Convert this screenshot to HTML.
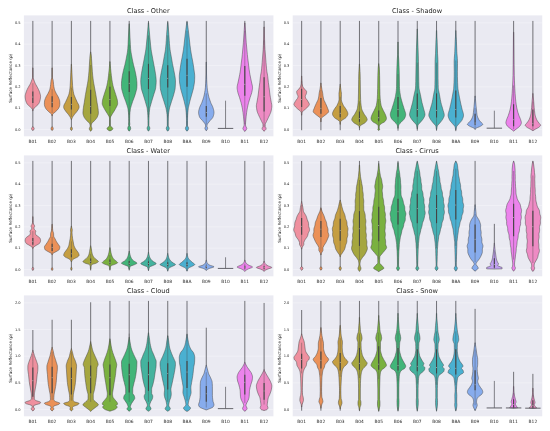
<!DOCTYPE html>
<html><head><meta charset="utf-8"><title>Surface Reflectance violin plots</title>
<style>html,body{margin:0;padding:0;background:#fff}svg{display:block}</style></head>
<body>
<svg width="550" height="431" viewBox="0 0 550 431" font-family="DejaVu Sans, Liberation Sans, sans-serif" fill="#262626">
<rect width="550" height="431" fill="#fff"/>
<g>
<rect x="23.90" y="15.40" width="249.55" height="120.90" fill="#eaeaf2"/>
<line x1="23.90" x2="273.45" y1="129.55" y2="129.55" stroke="#fff" stroke-width="0.32"/>
<text x="20.60" y="130.70" font-size="3.6" text-anchor="end">0.0</text>
<line x1="23.90" x2="273.45" y1="108.20" y2="108.20" stroke="#fff" stroke-width="0.32"/>
<text x="20.60" y="109.35" font-size="3.6" text-anchor="end">0.1</text>
<line x1="23.90" x2="273.45" y1="86.85" y2="86.85" stroke="#fff" stroke-width="0.32"/>
<text x="20.60" y="88.00" font-size="3.6" text-anchor="end">0.2</text>
<line x1="23.90" x2="273.45" y1="65.50" y2="65.50" stroke="#fff" stroke-width="0.32"/>
<text x="20.60" y="66.65" font-size="3.6" text-anchor="end">0.3</text>
<line x1="23.90" x2="273.45" y1="44.15" y2="44.15" stroke="#fff" stroke-width="0.32"/>
<text x="20.60" y="45.30" font-size="3.6" text-anchor="end">0.4</text>
<line x1="23.90" x2="273.45" y1="22.80" y2="22.80" stroke="#fff" stroke-width="0.32"/>
<text x="20.60" y="23.95" font-size="3.6" text-anchor="end">0.5</text>
<text x="148.28" y="13.00" font-size="6.6" text-anchor="middle">Class - Other</text>
<text transform="translate(11.70,78.30) rotate(-90)" font-size="4.2" text-anchor="middle">Surface Reflectance (ρ)</text>
<text x="32.85" y="143.20" font-size="4.4" text-anchor="middle">B01</text>
<line x1="32.85" x2="32.85" y1="20.91" y2="130.45" stroke="#636369" stroke-width="0.9"/>
<path d="M32.85,67.73 32.99,67.84 33.08,77.27 33.12,77.73 33.22,78.18 34.56,81.82 35.17,83.30 35.76,84.43 37.39,87.27 38.58,89.66 39.19,91.02 39.52,91.93 40.29,94.43 40.51,95.45 40.58,96.36 40.55,97.16 40.45,98.07 40.27,99.20 40.03,100.45 39.84,101.14 39.56,101.93 39.27,102.61 38.88,103.41 38.54,103.98 37.96,104.66 37.36,105.23 35.57,106.82 33.95,108.41 33.54,108.86 33.32,109.20 33.22,109.43 33.09,110.11 32.99,110.91 32.85,111.02 32.71,110.91 32.61,110.11 32.48,109.43 32.38,109.20 32.16,108.86 31.75,108.41 30.13,106.82 28.34,105.23 27.74,104.66 27.16,103.98 26.82,103.41 26.43,102.61 26.14,101.93 25.86,101.14 25.67,100.45 25.43,99.20 25.25,98.07 25.15,97.16 25.12,96.36 25.19,95.45 25.41,94.43 26.18,91.93 26.51,91.02 27.12,89.66 28.31,87.27 29.94,84.43 30.53,83.30 31.14,81.82 32.48,78.18 32.58,77.73 32.62,77.27 32.71,67.84ZM32.85,126.59 32.99,126.70 33.18,126.93 33.57,127.27 33.76,127.50 34.11,128.30 34.20,128.64 34.21,128.86 34.13,129.20 33.76,129.77 33.39,130.11 32.85,130.45 32.31,130.11 31.94,129.77 31.57,129.20 31.49,128.86 31.50,128.64 31.59,128.30 31.94,127.50 32.13,127.27 32.52,126.93 32.71,126.70Z" fill="#ef909f" stroke="#484848" stroke-width="0.5" stroke-linejoin="round"/>
<line x1="32.85" x2="32.85" y1="83.18" y2="109.32" stroke="#4a4a4a" stroke-width="0.4"/>
<line x1="32.85" x2="32.85" y1="91.59" y2="102.95" stroke="#444" stroke-width="1.1"/>
<circle cx="32.85" cy="97.05" r="0.45" fill="#fff" fill-opacity="0.85"/>
<text x="52.12" y="143.20" font-size="4.4" text-anchor="middle">B02</text>
<line x1="52.12" x2="52.12" y1="20.91" y2="130.45" stroke="#636369" stroke-width="0.9"/>
<path d="M52.12,67.73 52.26,67.84 52.36,77.50 52.50,78.18 52.97,79.55 53.14,80.23 53.29,81.36 53.60,84.55 53.89,86.59 54.18,88.18 54.55,89.66 54.84,90.45 55.17,91.25 56.38,93.75 57.67,95.91 58.04,96.59 58.96,98.64 59.36,99.66 59.59,100.45 59.71,101.14 59.81,102.84 59.85,104.32 59.82,104.77 59.76,105.23 59.53,106.14 59.25,106.93 58.87,107.84 58.51,108.52 58.18,108.98 57.69,109.55 55.53,111.70 55.02,112.16 53.59,113.30 53.00,113.86 52.73,114.20 52.62,114.43 52.39,115.23 52.26,115.91 52.12,116.02 51.98,115.91 51.85,115.23 51.62,114.43 51.51,114.20 51.24,113.86 50.65,113.30 49.22,112.16 48.71,111.70 46.55,109.55 46.06,108.98 45.73,108.52 45.37,107.84 44.99,106.93 44.71,106.14 44.48,105.23 44.42,104.77 44.39,104.32 44.43,102.84 44.53,101.14 44.65,100.45 44.88,99.66 45.28,98.64 46.20,96.59 46.57,95.91 47.86,93.75 49.07,91.25 49.40,90.45 49.69,89.66 50.06,88.18 50.35,86.59 50.64,84.55 50.95,81.36 51.10,80.23 51.27,79.55 51.74,78.18 51.88,77.50 51.98,67.84ZM52.12,126.59 52.26,126.70 52.42,126.93 52.76,127.27 52.92,127.50 53.18,128.30 53.26,128.86 53.23,129.09 53.15,129.32 52.83,129.89 52.60,130.11 52.12,130.45 51.64,130.11 51.41,129.89 51.09,129.32 51.01,129.09 50.98,128.86 51.06,128.30 51.32,127.50 51.48,127.27 51.82,126.93 51.98,126.70Z" fill="#eb9158" stroke="#484848" stroke-width="0.5" stroke-linejoin="round"/>
<line x1="52.12" x2="52.12" y1="88.86" y2="113.18" stroke="#4a4a4a" stroke-width="0.4"/>
<line x1="52.12" x2="52.12" y1="96.36" y2="107.27" stroke="#444" stroke-width="1.1"/>
<circle cx="52.12" cy="102.27" r="0.45" fill="#fff" fill-opacity="0.85"/>
<text x="71.39" y="143.20" font-size="4.4" text-anchor="middle">B03</text>
<line x1="71.39" x2="71.39" y1="20.91" y2="130.45" stroke="#636369" stroke-width="0.9"/>
<path d="M71.39,64.09 71.53,64.20 71.62,66.70 71.93,72.27 72.24,79.09 72.60,85.57 72.88,88.75 73.08,90.23 73.30,91.59 73.78,93.86 74.06,94.77 74.45,95.80 75.73,98.86 77.30,102.27 77.59,102.84 78.43,104.32 78.79,105.11 78.99,105.80 79.08,106.59 79.12,107.27 79.07,107.73 78.94,108.18 78.74,108.64 78.42,109.20 76.91,111.48 76.36,112.16 74.69,114.09 73.15,116.25 72.71,116.93 72.33,117.61 71.74,118.98 71.54,119.66 71.39,119.77 71.24,119.66 71.04,118.98 70.45,117.61 70.07,116.93 69.63,116.25 68.09,114.09 66.42,112.16 65.87,111.48 64.36,109.20 64.04,108.64 63.84,108.18 63.71,107.73 63.66,107.27 63.70,106.59 63.79,105.80 63.99,105.11 64.35,104.32 65.19,102.84 65.48,102.27 67.05,98.86 68.33,95.80 68.72,94.77 69.00,93.86 69.48,91.59 69.70,90.23 69.90,88.75 70.18,85.57 70.54,79.09 70.85,72.27 71.16,66.70 71.25,64.20ZM71.39,126.82 71.53,126.93 71.69,127.16 72.04,127.50 72.19,127.73 72.37,128.41 72.41,128.86 72.35,129.20 72.07,129.77 71.79,130.11 71.39,130.45 70.99,130.11 70.71,129.77 70.43,129.20 70.37,128.86 70.41,128.41 70.59,127.73 70.74,127.50 71.09,127.16 71.25,126.93Z" fill="#c59e42" stroke="#484848" stroke-width="0.5" stroke-linejoin="round"/>
<line x1="71.39" x2="71.39" y1="87.73" y2="116.82" stroke="#4a4a4a" stroke-width="0.4"/>
<line x1="71.39" x2="71.39" y1="97.05" y2="109.55" stroke="#444" stroke-width="1.1"/>
<circle cx="71.39" cy="104.32" r="0.45" fill="#fff" fill-opacity="0.85"/>
<text x="90.66" y="143.20" font-size="4.4" text-anchor="middle">B04</text>
<line x1="90.66" x2="90.66" y1="20.91" y2="131.14" stroke="#636369" stroke-width="0.9"/>
<path d="M90.66,51.82 90.80,51.93 90.89,52.84 91.23,55.00 91.34,55.91 91.52,58.30 92.39,71.82 92.70,75.34 93.11,78.98 93.40,81.14 93.76,83.30 95.87,94.66 97.08,102.61 97.88,107.27 98.09,108.86 98.25,110.57 98.36,112.05 98.39,113.18 98.36,113.64 98.30,114.09 98.02,115.11 97.32,116.93 97.09,117.39 96.82,117.84 96.08,118.86 94.65,120.57 94.06,121.14 92.48,122.50 92.07,122.95 91.80,123.41 91.52,124.09 91.34,124.66 91.24,125.23 91.23,125.68 91.28,126.36 91.37,126.93 91.47,127.16 91.83,127.73 91.91,127.95 92.01,128.64 92.01,129.09 91.84,129.66 91.50,130.34 91.20,130.68 90.66,131.14 90.12,130.68 89.82,130.34 89.48,129.66 89.31,129.09 89.31,128.64 89.41,127.95 89.49,127.73 89.85,127.16 89.95,126.93 90.04,126.36 90.09,125.68 90.08,125.23 89.98,124.66 89.80,124.09 89.52,123.41 89.25,122.95 88.84,122.50 87.26,121.14 86.67,120.57 85.24,118.86 84.50,117.84 84.23,117.39 84.00,116.93 83.30,115.11 83.02,114.09 82.96,113.64 82.93,113.18 82.96,112.05 83.07,110.57 83.23,108.86 83.44,107.27 84.24,102.61 85.45,94.66 87.56,83.30 87.92,81.14 88.21,78.98 88.62,75.34 88.93,71.82 89.80,58.30 89.98,55.91 90.09,55.00 90.43,52.84 90.52,51.93Z" fill="#a5a63f" stroke="#484848" stroke-width="0.5" stroke-linejoin="round"/>
<line x1="90.66" x2="90.66" y1="65.00" y2="124.55" stroke="#4a4a4a" stroke-width="0.4"/>
<line x1="90.66" x2="90.66" y1="89.77" y2="113.86" stroke="#444" stroke-width="1.1"/>
<circle cx="90.66" cy="106.59" r="0.45" fill="#fff" fill-opacity="0.85"/>
<text x="109.93" y="143.20" font-size="4.4" text-anchor="middle">B05</text>
<line x1="109.93" x2="109.93" y1="20.91" y2="130.91" stroke="#636369" stroke-width="0.9"/>
<path d="M109.93,61.48 110.07,61.59 110.20,63.75 110.61,68.52 111.35,75.45 111.84,79.32 112.36,82.50 112.96,85.45 113.61,88.07 115.78,94.66 116.92,98.41 117.17,99.32 117.37,100.23 117.48,101.14 117.61,102.50 117.66,103.64 117.58,104.32 117.33,105.11 117.02,105.80 115.90,108.07 115.34,109.09 114.11,111.14 112.44,113.75 111.16,115.91 110.80,116.59 110.58,117.16 110.50,117.50 110.35,118.41 110.27,119.43 110.30,122.95 110.38,125.91 110.41,126.02 110.59,126.25 110.87,126.48 111.73,127.05 111.98,127.27 112.66,128.07 112.84,128.41 112.88,128.64 112.81,128.98 112.61,129.32 112.21,129.77 111.83,130.11 111.16,130.45 109.93,130.91 108.70,130.45 108.03,130.11 107.65,129.77 107.25,129.32 107.05,128.98 106.98,128.64 107.02,128.41 107.20,128.07 107.88,127.27 108.13,127.05 108.99,126.48 109.27,126.25 109.45,126.02 109.48,125.91 109.56,122.95 109.59,119.43 109.51,118.41 109.36,117.50 109.28,117.16 109.06,116.59 108.70,115.91 107.42,113.75 105.75,111.14 104.52,109.09 103.96,108.07 102.84,105.80 102.53,105.11 102.28,104.32 102.20,103.64 102.25,102.50 102.38,101.14 102.49,100.23 102.69,99.32 102.94,98.41 104.08,94.66 106.25,88.07 106.90,85.45 107.50,82.50 108.02,79.32 108.51,75.45 109.25,68.52 109.66,63.75 109.79,61.59Z" fill="#7ab140" stroke="#484848" stroke-width="0.5" stroke-linejoin="round"/>
<line x1="109.93" x2="109.93" y1="74.09" y2="117.27" stroke="#4a4a4a" stroke-width="0.4"/>
<line x1="109.93" x2="109.93" y1="86.82" y2="105.91" stroke="#444" stroke-width="1.1"/>
<circle cx="109.93" cy="99.55" r="0.45" fill="#fff" fill-opacity="0.85"/>
<text x="129.20" y="143.20" font-size="4.4" text-anchor="middle">B06</text>
<line x1="129.20" x2="129.20" y1="20.91" y2="131.14" stroke="#636369" stroke-width="0.9"/>
<path d="M129.20,23.64 129.34,23.75 130.36,44.66 130.62,48.64 130.85,50.91 131.07,52.39 131.38,54.20 132.11,58.18 132.70,61.14 133.50,64.77 134.96,70.45 135.98,75.34 136.35,77.50 136.73,80.45 136.88,81.93 136.93,83.18 136.93,86.70 136.90,87.39 136.73,88.75 136.39,90.34 135.98,91.82 134.76,95.91 134.27,97.27 132.73,101.25 131.38,105.34 130.75,107.50 130.54,108.41 130.37,109.32 129.97,112.39 129.79,114.77 129.69,118.52 129.65,121.82 129.68,122.27 129.85,123.52 129.88,124.09 129.85,124.43 129.68,125.34 129.65,125.68 129.67,125.80 129.78,126.02 130.22,126.59 130.34,126.82 130.62,127.84 130.67,128.18 130.67,128.52 130.63,128.86 130.54,129.20 130.16,130.11 129.92,130.45 129.58,130.80 129.46,130.91 129.20,131.02 128.94,130.91 128.82,130.80 128.48,130.45 128.24,130.11 127.86,129.20 127.77,128.86 127.73,128.52 127.73,128.18 127.78,127.84 128.06,126.82 128.18,126.59 128.62,126.02 128.73,125.80 128.75,125.68 128.72,125.34 128.55,124.43 128.52,124.09 128.55,123.52 128.72,122.27 128.75,121.82 128.71,118.52 128.61,114.77 128.43,112.39 128.03,109.32 127.86,108.41 127.65,107.50 127.02,105.34 125.67,101.25 124.13,97.27 123.64,95.91 122.42,91.82 122.01,90.34 121.67,88.75 121.50,87.39 121.47,86.70 121.47,83.18 121.52,81.93 121.67,80.45 122.05,77.50 122.42,75.34 123.44,70.45 124.90,64.77 125.70,61.14 126.29,58.18 127.02,54.20 127.33,52.39 127.55,50.91 127.78,48.64 128.04,44.66 129.06,23.75Z" fill="#42b579" stroke="#484848" stroke-width="0.5" stroke-linejoin="round"/>
<line x1="129.20" x2="129.20" y1="44.55" y2="115.00" stroke="#4a4a4a" stroke-width="0.4"/>
<line x1="129.20" x2="129.20" y1="71.14" y2="92.05" stroke="#444" stroke-width="1.1"/>
<circle cx="129.20" cy="83.18" r="0.45" fill="#fff" fill-opacity="0.85"/>
<text x="148.47" y="143.20" font-size="4.4" text-anchor="middle">B07</text>
<line x1="148.47" x2="148.47" y1="20.91" y2="131.14" stroke="#636369" stroke-width="0.9"/>
<path d="M148.47,22.61 148.61,22.73 149.22,30.11 149.92,37.95 150.69,45.91 151.10,49.43 151.35,51.14 151.69,53.07 152.86,59.43 154.70,69.09 155.40,73.18 155.71,75.23 155.92,76.93 156.14,79.43 156.20,80.91 156.15,82.84 155.98,85.11 155.72,87.73 155.46,89.09 155.03,90.68 153.87,94.20 151.71,101.25 150.22,106.48 149.89,107.84 149.68,108.98 149.30,112.39 149.08,115.57 148.97,120.57 148.92,125.91 148.94,126.02 149.05,126.25 149.50,126.82 149.61,127.05 149.78,127.84 149.83,128.52 149.78,128.86 149.69,129.20 149.32,130.11 149.10,130.45 148.80,130.80 148.70,130.91 148.47,131.02 148.24,130.91 148.14,130.80 147.84,130.45 147.62,130.11 147.25,129.20 147.16,128.86 147.11,128.52 147.16,127.84 147.33,127.05 147.44,126.82 147.89,126.25 148.00,126.02 148.02,125.91 147.97,120.57 147.86,115.57 147.64,112.39 147.26,108.98 147.05,107.84 146.72,106.48 145.23,101.25 143.07,94.20 141.91,90.68 141.48,89.09 141.22,87.73 140.96,85.11 140.79,82.84 140.74,80.91 140.80,79.43 141.02,76.93 141.23,75.23 141.54,73.18 142.24,69.09 144.08,59.43 145.25,53.07 145.59,51.14 145.84,49.43 146.25,45.91 147.02,37.95 147.72,30.11 148.33,22.73Z" fill="#44b39e" stroke="#484848" stroke-width="0.5" stroke-linejoin="round"/>
<line x1="148.47" x2="148.47" y1="35.45" y2="117.27" stroke="#4a4a4a" stroke-width="0.4"/>
<line x1="148.47" x2="148.47" y1="63.86" y2="89.09" stroke="#444" stroke-width="1.1"/>
<circle cx="148.47" cy="78.64" r="0.45" fill="#fff" fill-opacity="0.85"/>
<text x="167.74" y="143.20" font-size="4.4" text-anchor="middle">B08</text>
<line x1="167.74" x2="167.74" y1="20.91" y2="131.14" stroke="#636369" stroke-width="0.9"/>
<path d="M167.74,22.27 167.88,22.39 168.29,26.93 168.87,34.43 169.24,40.57 169.45,43.41 169.76,46.93 170.07,49.77 170.39,51.82 171.20,56.25 172.47,63.64 173.84,70.34 174.82,75.45 175.05,76.93 175.35,79.20 175.44,80.11 175.47,80.91 175.41,83.98 175.23,87.61 175.11,88.75 174.86,90.11 174.45,91.82 173.30,96.02 171.51,101.48 170.20,105.68 169.76,107.16 169.30,109.09 168.76,112.27 168.47,114.43 168.32,116.36 168.23,121.14 168.19,125.91 168.21,126.02 168.32,126.25 168.75,126.82 168.88,127.05 169.16,127.95 169.21,128.52 169.17,128.86 169.08,129.20 168.70,130.11 168.46,130.45 168.12,130.80 168.00,130.91 167.74,131.02 167.48,130.91 167.36,130.80 167.02,130.45 166.78,130.11 166.40,129.20 166.31,128.86 166.27,128.52 166.32,127.95 166.60,127.05 166.73,126.82 167.16,126.25 167.27,126.02 167.29,125.91 167.25,121.14 167.16,116.36 167.01,114.43 166.72,112.27 166.18,109.09 165.72,107.16 165.28,105.68 163.97,101.48 162.18,96.02 161.03,91.82 160.62,90.11 160.37,88.75 160.25,87.61 160.07,83.98 160.01,80.91 160.04,80.11 160.13,79.20 160.43,76.93 160.66,75.45 161.64,70.34 163.01,63.64 164.28,56.25 165.09,51.82 165.41,49.77 165.72,46.93 166.03,43.41 166.24,40.57 166.61,34.43 167.19,26.93 167.60,22.39Z" fill="#46b1b5" stroke="#484848" stroke-width="0.5" stroke-linejoin="round"/>
<line x1="167.74" x2="167.74" y1="35.45" y2="117.27" stroke="#4a4a4a" stroke-width="0.4"/>
<line x1="167.74" x2="167.74" y1="65.23" y2="87.50" stroke="#444" stroke-width="1.1"/>
<circle cx="167.74" cy="78.18" r="0.45" fill="#fff" fill-opacity="0.85"/>
<text x="187.01" y="143.20" font-size="4.4" text-anchor="middle">B8A</text>
<line x1="187.01" x2="187.01" y1="20.91" y2="131.14" stroke="#636369" stroke-width="0.9"/>
<path d="M187.01,21.70 187.15,21.82 187.72,25.80 188.25,29.77 188.88,35.00 190.03,45.34 190.52,49.20 191.14,53.07 191.93,57.39 192.85,62.16 193.29,64.77 193.76,67.95 194.58,74.09 194.70,75.34 194.74,76.36 194.65,79.66 194.59,80.80 194.49,81.93 194.17,84.32 193.54,87.84 193.29,88.98 192.93,90.34 190.48,98.98 189.87,101.25 188.73,106.14 188.43,107.61 188.23,108.86 187.83,112.61 187.62,115.68 187.51,120.68 187.46,125.91 187.48,126.02 187.61,126.25 188.12,126.82 188.26,127.05 188.55,127.95 188.60,128.52 188.55,128.86 188.46,129.20 188.09,130.11 187.70,130.57 187.01,131.14 186.32,130.57 185.93,130.11 185.56,129.20 185.47,128.86 185.42,128.52 185.47,127.95 185.76,127.05 185.90,126.82 186.41,126.25 186.54,126.02 186.56,125.91 186.51,120.68 186.40,115.68 186.19,112.61 185.79,108.86 185.59,107.61 185.29,106.14 184.15,101.25 183.54,98.98 181.09,90.34 180.73,88.98 180.48,87.84 179.85,84.32 179.53,81.93 179.43,80.80 179.37,79.66 179.28,76.36 179.32,75.34 179.44,74.09 180.26,67.95 180.73,64.77 181.17,62.16 182.09,57.39 182.88,53.07 183.50,49.20 183.99,45.34 185.14,35.00 185.77,29.77 186.30,25.80 186.87,21.82Z" fill="#4ab0d1" stroke="#484848" stroke-width="0.5" stroke-linejoin="round"/>
<line x1="187.01" x2="187.01" y1="30.91" y2="117.27" stroke="#4a4a4a" stroke-width="0.4"/>
<line x1="187.01" x2="187.01" y1="58.64" y2="86.82" stroke="#444" stroke-width="1.1"/>
<circle cx="187.01" cy="75.23" r="0.45" fill="#fff" fill-opacity="0.85"/>
<text x="206.28" y="143.20" font-size="4.4" text-anchor="middle">B09</text>
<line x1="206.28" x2="206.28" y1="20.91" y2="130.68" stroke="#636369" stroke-width="0.9"/>
<path d="M206.28,61.93 206.42,62.05 206.52,73.98 206.68,79.32 206.90,83.30 207.19,87.50 207.33,88.98 207.55,90.57 207.90,92.61 208.37,95.00 208.70,96.36 209.07,97.73 209.80,100.00 210.73,102.61 211.18,103.64 212.46,106.25 212.96,107.50 213.51,109.43 213.78,110.57 213.95,111.59 214.01,112.50 213.94,113.52 213.71,114.77 213.46,115.68 213.14,116.70 213.01,117.05 212.84,117.39 212.55,117.84 212.11,118.41 210.14,120.57 208.20,122.95 207.71,123.64 207.34,124.32 207.22,124.66 207.07,125.34 206.99,125.91 206.96,126.36 207.02,126.59 207.37,127.16 207.45,127.39 207.62,128.07 207.64,128.41 207.62,128.64 207.46,129.09 207.00,129.89 206.51,130.45 206.28,130.57 206.05,130.45 205.56,129.89 205.10,129.09 204.94,128.64 204.92,128.41 204.94,128.07 205.11,127.39 205.19,127.16 205.54,126.59 205.60,126.36 205.57,125.91 205.49,125.34 205.34,124.66 205.22,124.32 204.85,123.64 204.36,122.95 202.42,120.57 200.45,118.41 200.01,117.84 199.72,117.39 199.55,117.05 199.42,116.70 199.10,115.68 198.85,114.77 198.62,113.52 198.55,112.50 198.61,111.59 198.78,110.57 199.05,109.43 199.60,107.50 200.10,106.25 201.38,103.64 201.83,102.61 202.76,100.00 203.49,97.73 203.86,96.36 204.19,95.00 204.66,92.61 205.01,90.57 205.23,88.98 205.37,87.50 205.66,83.30 205.88,79.32 206.04,73.98 206.14,62.05Z" fill="#87aced" stroke="#484848" stroke-width="0.5" stroke-linejoin="round"/>
<line x1="206.28" x2="206.28" y1="93.41" y2="124.55" stroke="#4a4a4a" stroke-width="0.4"/>
<line x1="206.28" x2="206.28" y1="105.91" y2="116.82" stroke="#444" stroke-width="1.1"/>
<circle cx="206.28" cy="112.50" r="0.45" fill="#fff" fill-opacity="0.85"/>
<text x="225.55" y="143.20" font-size="4.4" text-anchor="middle">B10</text>
<line x1="225.55" x2="225.55" y1="100.68" y2="128.41" stroke="#66666c" stroke-width="0.8"/>
<line x1="217.85" x2="233.25" y1="128.41" y2="128.41" stroke="#5c5c62" stroke-width="0.95"/>
<text x="244.82" y="143.20" font-size="4.4" text-anchor="middle">B11</text>
<line x1="244.82" x2="244.82" y1="20.91" y2="131.36" stroke="#636369" stroke-width="0.9"/>
<path d="M244.82,22.84 244.96,22.95 246.26,42.84 247.33,54.43 247.72,58.07 248.47,63.98 249.10,69.20 249.51,72.05 249.98,74.66 250.84,78.98 251.71,83.07 252.36,85.80 252.50,86.70 252.55,87.50 252.51,88.41 252.38,89.43 252.17,90.57 251.74,92.61 251.30,94.09 250.12,97.50 248.63,102.50 248.27,103.86 247.95,105.23 247.52,107.27 247.14,109.32 246.65,112.39 246.18,116.25 245.63,122.16 245.51,124.32 245.51,125.00 245.66,125.68 246.05,126.82 246.65,127.95 246.75,128.30 246.75,128.52 246.68,128.86 246.55,129.20 245.96,130.23 245.59,130.68 244.82,131.36 244.05,130.68 243.68,130.23 243.09,129.20 242.96,128.86 242.89,128.52 242.89,128.30 242.99,127.95 243.59,126.82 243.98,125.68 244.13,125.00 244.13,124.32 244.01,122.16 243.46,116.25 242.99,112.39 242.50,109.32 242.12,107.27 241.69,105.23 241.37,103.86 241.01,102.50 239.52,97.50 238.34,94.09 237.90,92.61 237.47,90.57 237.26,89.43 237.13,88.41 237.09,87.50 237.14,86.70 237.28,85.80 237.93,83.07 238.80,78.98 239.66,74.66 240.13,72.05 240.54,69.20 241.17,63.98 241.92,58.07 242.31,54.43 243.38,42.84 244.68,22.95Z" fill="#ec83ec" stroke="#484848" stroke-width="0.5" stroke-linejoin="round"/>
<line x1="244.82" x2="244.82" y1="30.91" y2="124.09" stroke="#4a4a4a" stroke-width="0.4"/>
<line x1="244.82" x2="244.82" y1="65.91" y2="95.68" stroke="#444" stroke-width="1.1"/>
<circle cx="244.82" cy="84.32" r="0.45" fill="#fff" fill-opacity="0.85"/>
<text x="264.09" y="143.20" font-size="4.4" text-anchor="middle">B12</text>
<line x1="264.09" x2="264.09" y1="20.91" y2="131.14" stroke="#636369" stroke-width="0.9"/>
<path d="M264.09,26.82 264.23,26.93 264.62,40.68 264.80,45.45 265.01,49.43 266.01,62.39 266.57,68.86 266.91,71.82 267.55,75.23 267.74,76.48 268.39,82.61 269.12,87.73 270.00,95.00 270.44,97.73 271.31,102.61 271.69,104.55 271.78,105.23 271.82,105.91 271.75,107.27 271.53,108.86 271.09,111.14 270.72,112.39 270.36,113.30 269.91,114.32 268.39,117.61 267.17,120.11 266.60,121.36 265.66,123.18 265.46,123.64 265.32,124.09 265.23,124.66 265.24,126.48 265.32,126.70 265.75,127.39 265.95,127.95 266.12,128.64 266.14,128.86 266.10,129.09 265.99,129.32 265.83,129.55 265.12,130.34 264.73,130.68 264.09,131.14 263.45,130.68 263.06,130.34 262.35,129.55 262.19,129.32 262.08,129.09 262.04,128.86 262.06,128.64 262.23,127.95 262.43,127.39 262.86,126.70 262.94,126.48 262.95,124.66 262.86,124.09 262.72,123.64 262.52,123.18 261.58,121.36 261.01,120.11 259.79,117.61 258.27,114.32 257.82,113.30 257.46,112.39 257.09,111.14 256.65,108.86 256.43,107.27 256.36,105.91 256.40,105.23 256.49,104.55 256.87,102.61 257.74,97.73 258.18,95.00 259.06,87.73 259.79,82.61 260.44,76.48 260.63,75.23 261.27,71.82 261.61,68.86 262.17,62.39 263.17,49.43 263.38,45.45 263.56,40.68 263.95,26.93Z" fill="#ee8bc4" stroke="#484848" stroke-width="0.5" stroke-linejoin="round"/>
<line x1="264.09" x2="264.09" y1="40.00" y2="127.50" stroke="#4a4a4a" stroke-width="0.4"/>
<line x1="264.09" x2="264.09" y1="77.27" y2="111.59" stroke="#444" stroke-width="1.1"/>
<circle cx="264.09" cy="96.82" r="0.45" fill="#fff" fill-opacity="0.85"/>
</g>
<g>
<rect x="292.70" y="15.40" width="249.55" height="120.90" fill="#eaeaf2"/>
<line x1="292.70" x2="542.25" y1="129.55" y2="129.55" stroke="#fff" stroke-width="0.32"/>
<text x="289.40" y="130.70" font-size="3.6" text-anchor="end">0.0</text>
<line x1="292.70" x2="542.25" y1="108.20" y2="108.20" stroke="#fff" stroke-width="0.32"/>
<text x="289.40" y="109.35" font-size="3.6" text-anchor="end">0.1</text>
<line x1="292.70" x2="542.25" y1="86.85" y2="86.85" stroke="#fff" stroke-width="0.32"/>
<text x="289.40" y="88.00" font-size="3.6" text-anchor="end">0.2</text>
<line x1="292.70" x2="542.25" y1="65.50" y2="65.50" stroke="#fff" stroke-width="0.32"/>
<text x="289.40" y="66.65" font-size="3.6" text-anchor="end">0.3</text>
<line x1="292.70" x2="542.25" y1="44.15" y2="44.15" stroke="#fff" stroke-width="0.32"/>
<text x="289.40" y="45.30" font-size="3.6" text-anchor="end">0.4</text>
<line x1="292.70" x2="542.25" y1="22.80" y2="22.80" stroke="#fff" stroke-width="0.32"/>
<text x="289.40" y="23.95" font-size="3.6" text-anchor="end">0.5</text>
<text x="417.08" y="13.00" font-size="6.6" text-anchor="middle">Class - Shadow</text>
<text transform="translate(280.50,78.30) rotate(-90)" font-size="4.2" text-anchor="middle">Surface Reflectance (ρ)</text>
<text x="301.65" y="143.20" font-size="4.4" text-anchor="middle">B01</text>
<line x1="301.65" x2="301.65" y1="20.91" y2="130.23" stroke="#636369" stroke-width="0.9"/>
<path d="M301.65,75.91 301.79,76.02 301.92,80.00 302.14,83.64 302.36,85.00 302.75,86.48 302.99,87.05 303.38,87.61 304.66,89.20 305.78,90.34 306.19,90.80 306.49,91.25 306.62,91.59 306.65,91.93 306.59,92.50 306.47,93.07 306.20,94.09 306.02,94.55 305.49,95.57 305.33,96.02 305.29,96.25 305.30,96.59 305.43,97.27 305.74,98.18 305.92,98.52 306.17,98.86 307.02,99.89 307.62,100.80 308.16,101.70 309.17,103.52 309.33,103.98 309.38,104.32 309.35,104.55 309.29,104.77 309.06,105.23 308.65,105.80 307.54,107.16 306.86,107.84 305.61,108.98 303.58,110.57 302.83,111.36 302.36,111.93 302.15,112.27 302.01,112.61 301.88,113.75 301.79,115.23 301.65,115.34 301.51,115.23 301.42,113.75 301.29,112.61 301.15,112.27 300.94,111.93 300.47,111.36 299.72,110.57 297.69,108.98 296.44,107.84 295.76,107.16 294.65,105.80 294.24,105.23 294.01,104.77 293.95,104.55 293.92,104.32 293.97,103.98 294.13,103.52 295.14,101.70 295.68,100.80 296.28,99.89 297.13,98.86 297.38,98.52 297.56,98.18 297.87,97.27 298.00,96.59 298.01,96.25 297.97,96.02 297.81,95.57 297.28,94.55 297.10,94.09 296.83,93.07 296.71,92.50 296.65,91.93 296.68,91.59 296.81,91.25 297.11,90.80 297.52,90.34 298.64,89.20 299.92,87.61 300.31,87.05 300.55,86.48 300.94,85.00 301.16,83.64 301.38,80.00 301.51,76.02Z" fill="#ef909f" stroke="#484848" stroke-width="0.5" stroke-linejoin="round"/>
<line x1="301.65" x2="301.65" y1="80.91" y2="112.73" stroke="#4a4a4a" stroke-width="0.4"/>
<line x1="301.65" x2="301.65" y1="88.86" y2="107.05" stroke="#444" stroke-width="1.1"/>
<circle cx="301.65" cy="99.55" r="0.45" fill="#fff" fill-opacity="0.85"/>
<text x="320.92" y="143.20" font-size="4.4" text-anchor="middle">B02</text>
<line x1="320.92" x2="320.92" y1="20.91" y2="130.23" stroke="#636369" stroke-width="0.9"/>
<path d="M320.92,82.84 321.06,82.95 321.14,83.98 321.28,85.23 321.85,88.98 322.01,89.89 322.65,92.84 322.77,93.64 322.95,95.34 323.13,96.59 323.38,97.95 323.65,99.09 323.86,99.77 324.14,100.45 325.59,103.41 327.17,107.05 328.40,110.23 328.58,110.91 328.65,111.59 328.58,111.93 328.41,112.27 328.14,112.61 327.69,113.07 325.38,115.00 321.90,117.61 321.62,117.84 321.41,118.07 321.28,118.30 321.26,118.41 321.06,121.93 320.92,122.05 320.78,121.93 320.58,118.41 320.56,118.30 320.43,118.07 320.22,117.84 319.94,117.61 316.46,115.00 314.15,113.07 313.70,112.61 313.43,112.27 313.26,111.93 313.19,111.59 313.26,110.91 313.44,110.23 314.67,107.05 316.25,103.41 317.70,100.45 317.98,99.77 318.19,99.09 318.46,97.95 318.71,96.59 318.89,95.34 319.07,93.64 319.19,92.84 319.83,89.89 319.99,88.98 320.56,85.23 320.70,83.98 320.78,82.95Z" fill="#eb9158" stroke="#484848" stroke-width="0.5" stroke-linejoin="round"/>
<line x1="320.92" x2="320.92" y1="90.00" y2="117.27" stroke="#4a4a4a" stroke-width="0.4"/>
<line x1="320.92" x2="320.92" y1="97.95" y2="113.86" stroke="#444" stroke-width="1.1"/>
<circle cx="320.92" cy="108.18" r="0.45" fill="#fff" fill-opacity="0.85"/>
<text x="340.19" y="143.20" font-size="4.4" text-anchor="middle">B03</text>
<line x1="340.19" x2="340.19" y1="20.91" y2="130.23" stroke="#636369" stroke-width="0.9"/>
<path d="M340.19,84.09 340.33,84.20 340.44,85.80 340.64,87.61 341.11,91.25 341.42,93.07 341.43,94.32 341.33,99.20 341.41,100.11 341.60,101.02 341.84,101.82 342.17,102.73 343.31,105.34 343.89,106.25 345.29,108.07 345.77,108.75 346.04,109.20 347.19,111.36 347.50,112.05 347.74,112.73 347.87,113.30 347.92,113.86 347.89,114.20 347.80,114.66 347.68,115.00 347.48,115.45 346.93,116.36 346.00,117.61 345.63,117.95 345.16,118.30 342.76,119.77 341.24,120.91 340.86,121.25 340.67,121.48 340.55,121.70 340.53,121.82 340.33,124.43 340.19,124.55 340.05,124.43 339.85,121.82 339.83,121.70 339.71,121.48 339.52,121.25 339.14,120.91 337.62,119.77 335.22,118.30 334.75,117.95 334.38,117.61 333.45,116.36 332.90,115.45 332.70,115.00 332.58,114.66 332.49,114.20 332.46,113.86 332.51,113.30 332.64,112.73 332.88,112.05 333.19,111.36 334.34,109.20 334.61,108.75 335.09,108.07 336.49,106.25 337.07,105.34 338.21,102.73 338.54,101.82 338.78,101.02 338.97,100.11 339.05,99.20 338.95,94.32 338.96,93.07 339.27,91.25 339.74,87.61 339.94,85.80 340.05,84.20Z" fill="#c59e42" stroke="#484848" stroke-width="0.5" stroke-linejoin="round"/>
<line x1="340.19" x2="340.19" y1="96.82" y2="120.68" stroke="#4a4a4a" stroke-width="0.4"/>
<line x1="340.19" x2="340.19" y1="105.91" y2="117.27" stroke="#444" stroke-width="1.1"/>
<circle cx="340.19" cy="113.18" r="0.45" fill="#fff" fill-opacity="0.85"/>
<text x="359.46" y="143.20" font-size="4.4" text-anchor="middle">B04</text>
<line x1="359.46" x2="359.46" y1="20.91" y2="130.23" stroke="#636369" stroke-width="0.9"/>
<path d="M359.46,63.98 359.60,64.09 359.69,66.25 360.02,71.48 360.13,73.86 360.26,79.66 360.44,93.07 360.61,99.55 360.82,102.73 361.19,105.91 361.49,107.84 361.65,108.64 361.97,109.66 362.39,110.68 363.04,112.05 364.13,114.09 364.59,114.77 365.90,116.48 366.34,117.16 367.00,118.64 367.14,119.09 367.19,119.55 367.17,119.77 367.09,120.11 366.95,120.45 366.76,120.80 366.17,121.59 365.26,122.61 364.98,122.84 364.48,123.18 362.07,124.55 360.53,125.57 360.23,125.80 359.99,126.02 359.84,126.25 359.80,126.36 359.60,127.73 359.46,127.84 359.32,127.73 359.12,126.36 359.08,126.25 358.93,126.02 358.69,125.80 358.39,125.57 356.85,124.55 354.44,123.18 353.94,122.84 353.66,122.61 352.75,121.59 352.16,120.80 351.97,120.45 351.83,120.11 351.75,119.77 351.73,119.55 351.78,119.09 351.92,118.64 352.58,117.16 353.02,116.48 354.33,114.77 354.79,114.09 355.88,112.05 356.53,110.68 356.95,109.66 357.27,108.64 357.43,107.84 357.73,105.91 358.10,102.73 358.31,99.55 358.48,93.07 358.66,79.66 358.79,73.86 358.90,71.48 359.23,66.25 359.32,64.09Z" fill="#a5a63f" stroke="#484848" stroke-width="0.5" stroke-linejoin="round"/>
<line x1="359.46" x2="359.46" y1="101.36" y2="125.23" stroke="#4a4a4a" stroke-width="0.4"/>
<line x1="359.46" x2="359.46" y1="111.59" y2="121.82" stroke="#444" stroke-width="1.1"/>
<circle cx="359.46" cy="118.41" r="0.45" fill="#fff" fill-opacity="0.85"/>
<text x="378.73" y="143.20" font-size="4.4" text-anchor="middle">B05</text>
<line x1="378.73" x2="378.73" y1="20.91" y2="130.45" stroke="#636369" stroke-width="0.9"/>
<path d="M378.73,63.52 378.87,63.64 378.98,65.00 379.32,68.18 379.41,69.43 379.61,75.57 379.83,88.64 379.99,94.43 380.10,97.05 380.21,98.64 380.39,100.57 380.62,102.39 381.05,105.00 381.22,105.68 381.45,106.36 382.00,107.73 383.43,110.80 384.90,113.52 385.38,114.55 386.00,116.25 386.25,117.05 386.40,117.73 386.46,118.41 386.43,118.75 386.36,119.09 386.25,119.43 386.05,119.89 385.50,120.80 385.09,121.36 384.88,121.59 384.60,121.82 384.06,122.16 382.37,123.07 381.61,123.52 380.03,124.66 379.66,125.00 379.50,125.23 379.41,125.45 379.27,126.48 379.20,127.39 379.18,128.18 379.23,128.41 379.59,129.09 379.64,129.32 379.63,129.43 379.54,129.66 379.38,129.89 379.16,130.11 378.73,130.45 378.30,130.11 378.08,129.89 377.92,129.66 377.83,129.43 377.82,129.32 377.87,129.09 378.23,128.41 378.28,128.18 378.26,127.39 378.19,126.48 378.05,125.45 377.96,125.23 377.80,125.00 377.43,124.66 375.85,123.52 375.09,123.07 373.40,122.16 372.86,121.82 372.58,121.59 372.37,121.36 371.96,120.80 371.41,119.89 371.21,119.43 371.10,119.09 371.03,118.75 371.00,118.41 371.06,117.73 371.21,117.05 371.46,116.25 372.08,114.55 372.56,113.52 374.03,110.80 375.46,107.73 376.01,106.36 376.24,105.68 376.41,105.00 376.84,102.39 377.07,100.57 377.25,98.64 377.36,97.05 377.47,94.43 377.63,88.64 377.85,75.57 378.05,69.43 378.14,68.18 378.48,65.00 378.59,63.64Z" fill="#7ab140" stroke="#484848" stroke-width="0.5" stroke-linejoin="round"/>
<line x1="378.73" x2="378.73" y1="99.09" y2="125.23" stroke="#4a4a4a" stroke-width="0.4"/>
<line x1="378.73" x2="378.73" y1="110.45" y2="121.36" stroke="#444" stroke-width="1.1"/>
<circle cx="378.73" cy="117.73" r="0.45" fill="#fff" fill-opacity="0.85"/>
<text x="398.00" y="143.20" font-size="4.4" text-anchor="middle">B06</text>
<line x1="398.00" x2="398.00" y1="20.91" y2="130.68" stroke="#636369" stroke-width="0.9"/>
<path d="M398.00,41.82 398.14,41.93 398.36,54.32 398.45,55.80 398.78,60.11 399.10,67.73 399.27,73.98 399.45,86.59 399.52,88.52 399.69,90.45 399.94,92.50 400.33,95.11 400.58,96.48 400.95,98.07 401.52,100.23 402.52,103.75 403.88,107.95 404.50,110.00 405.41,112.61 405.65,113.64 405.73,114.55 405.70,115.00 405.64,115.45 405.41,116.36 405.13,117.16 404.70,118.18 404.39,118.75 404.05,119.20 403.54,119.77 402.06,121.25 401.09,122.27 399.71,123.64 399.32,124.09 399.02,124.55 398.74,125.23 398.50,126.02 398.36,126.70 398.14,128.41 398.00,128.52 397.86,128.41 397.64,126.70 397.50,126.02 397.26,125.23 396.98,124.55 396.68,124.09 396.29,123.64 394.91,122.27 393.94,121.25 392.46,119.77 391.95,119.20 391.61,118.75 391.30,118.18 390.87,117.16 390.59,116.36 390.36,115.45 390.30,115.00 390.27,114.55 390.35,113.64 390.59,112.61 391.50,110.00 392.12,107.95 393.48,103.75 394.48,100.23 395.05,98.07 395.42,96.48 395.67,95.11 396.06,92.50 396.31,90.45 396.48,88.52 396.55,86.59 396.73,73.98 396.90,67.73 397.22,60.11 397.55,55.80 397.64,54.32 397.86,41.93Z" fill="#42b579" stroke="#484848" stroke-width="0.5" stroke-linejoin="round"/>
<line x1="398.00" x2="398.00" y1="74.09" y2="123.64" stroke="#4a4a4a" stroke-width="0.4"/>
<line x1="398.00" x2="398.00" y1="97.05" y2="116.82" stroke="#444" stroke-width="1.1"/>
<circle cx="398.00" cy="109.55" r="0.45" fill="#fff" fill-opacity="0.85"/>
<text x="417.27" y="143.20" font-size="4.4" text-anchor="middle">B07</text>
<line x1="417.27" x2="417.27" y1="20.91" y2="130.68" stroke="#636369" stroke-width="0.9"/>
<path d="M417.27,28.86 417.41,28.98 417.65,37.95 418.03,47.27 418.29,55.11 418.45,61.59 418.79,81.70 418.90,85.57 419.01,88.07 419.13,88.98 419.32,90.00 420.38,94.43 421.45,100.00 421.93,102.27 422.38,104.09 423.45,107.95 423.98,110.00 424.70,112.50 424.93,113.64 425.00,114.55 424.98,114.89 424.90,115.34 424.64,116.14 424.16,117.16 423.57,118.30 423.30,118.75 422.62,119.66 420.51,122.16 418.75,124.09 418.41,124.55 418.19,124.89 417.99,125.34 417.84,125.91 417.66,126.93 417.41,128.86 417.27,128.98 417.13,128.86 416.88,126.93 416.70,125.91 416.55,125.34 416.35,124.89 416.13,124.55 415.79,124.09 414.03,122.16 411.92,119.66 411.24,118.75 410.97,118.30 410.38,117.16 409.90,116.14 409.64,115.34 409.56,114.89 409.54,114.55 409.61,113.64 409.84,112.50 410.56,110.00 411.09,107.95 412.16,104.09 412.61,102.27 413.09,100.00 414.16,94.43 415.22,90.00 415.41,88.98 415.53,88.07 415.64,85.57 415.75,81.70 416.09,61.59 416.25,55.11 416.51,47.27 416.89,37.95 417.13,28.98Z" fill="#44b39e" stroke="#484848" stroke-width="0.5" stroke-linejoin="round"/>
<line x1="417.27" x2="417.27" y1="62.73" y2="125.23" stroke="#4a4a4a" stroke-width="0.4"/>
<line x1="417.27" x2="417.27" y1="93.41" y2="116.82" stroke="#444" stroke-width="1.1"/>
<circle cx="417.27" cy="109.55" r="0.45" fill="#fff" fill-opacity="0.85"/>
<text x="436.54" y="143.20" font-size="4.4" text-anchor="middle">B08</text>
<line x1="436.54" x2="436.54" y1="20.91" y2="130.68" stroke="#636369" stroke-width="0.9"/>
<path d="M436.54,30.45 436.68,30.57 436.89,36.93 437.10,39.77 437.20,42.16 437.57,53.75 437.91,59.32 437.99,61.25 438.05,78.30 438.16,84.66 438.25,87.61 438.30,88.41 438.41,89.32 438.58,90.34 439.41,94.32 440.34,99.66 440.86,102.27 441.48,104.66 442.50,108.07 443.09,110.23 443.93,112.95 444.19,114.20 444.27,115.23 444.25,115.57 444.17,116.02 443.91,116.82 443.43,117.84 442.79,119.09 442.52,119.55 441.79,120.57 439.88,122.95 437.94,125.11 437.60,125.57 437.40,125.91 437.22,126.36 437.09,126.93 436.68,129.55 436.54,129.66 436.40,129.55 435.99,126.93 435.86,126.36 435.68,125.91 435.48,125.57 435.14,125.11 433.20,122.95 431.29,120.57 430.56,119.55 430.29,119.09 429.65,117.84 429.17,116.82 428.91,116.02 428.83,115.57 428.81,115.23 428.89,114.20 429.15,112.95 429.99,110.23 430.58,108.07 431.60,104.66 432.22,102.27 432.74,99.66 433.67,94.32 434.50,90.34 434.67,89.32 434.78,88.41 434.83,87.61 434.92,84.66 435.03,78.30 435.09,61.25 435.17,59.32 435.51,53.75 435.88,42.16 435.98,39.77 436.19,36.93 436.40,30.57Z" fill="#46b1b5" stroke="#484848" stroke-width="0.5" stroke-linejoin="round"/>
<line x1="436.54" x2="436.54" y1="62.73" y2="126.36" stroke="#4a4a4a" stroke-width="0.4"/>
<line x1="436.54" x2="436.54" y1="93.41" y2="117.50" stroke="#444" stroke-width="1.1"/>
<circle cx="436.54" cy="110.23" r="0.45" fill="#fff" fill-opacity="0.85"/>
<text x="455.81" y="143.20" font-size="4.4" text-anchor="middle">B8A</text>
<line x1="455.81" x2="455.81" y1="20.91" y2="131.14" stroke="#636369" stroke-width="0.9"/>
<path d="M455.81,30.45 455.95,30.57 456.16,36.93 456.36,39.66 456.44,41.25 456.84,51.59 456.97,53.64 457.35,58.52 457.48,60.91 457.51,63.30 457.40,71.82 457.43,76.25 457.60,82.27 457.78,86.02 457.92,88.30 458.08,89.66 458.34,91.25 459.43,97.16 460.16,100.80 460.90,104.20 462.20,109.66 462.45,110.57 463.06,112.50 463.30,113.41 463.47,114.32 463.54,115.23 463.46,116.14 463.22,117.16 462.81,118.30 462.06,120.00 461.72,120.57 461.20,121.25 459.80,122.84 458.95,123.86 457.50,125.45 457.13,125.91 456.81,126.36 456.58,126.82 456.43,127.27 456.23,128.18 455.96,129.89 455.81,130.00 455.66,129.89 455.39,128.18 455.19,127.27 455.04,126.82 454.81,126.36 454.49,125.91 454.12,125.45 452.67,123.86 451.82,122.84 450.42,121.25 449.90,120.57 449.56,120.00 448.81,118.30 448.40,117.16 448.16,116.14 448.08,115.23 448.15,114.32 448.32,113.41 448.56,112.50 449.17,110.57 449.42,109.66 450.72,104.20 451.46,100.80 452.19,97.16 453.28,91.25 453.54,89.66 453.70,88.30 453.84,86.02 454.02,82.27 454.19,76.25 454.22,71.82 454.11,63.30 454.14,60.91 454.27,58.52 454.65,53.64 454.78,51.59 455.18,41.25 455.26,39.66 455.46,36.93 455.67,30.57Z" fill="#4ab0d1" stroke="#484848" stroke-width="0.5" stroke-linejoin="round"/>
<line x1="455.81" x2="455.81" y1="60.45" y2="126.36" stroke="#4a4a4a" stroke-width="0.4"/>
<line x1="455.81" x2="455.81" y1="90.45" y2="117.50" stroke="#444" stroke-width="1.1"/>
<circle cx="455.81" cy="109.55" r="0.45" fill="#fff" fill-opacity="0.85"/>
<text x="475.08" y="143.20" font-size="4.4" text-anchor="middle">B09</text>
<line x1="475.08" x2="475.08" y1="20.91" y2="129.55" stroke="#636369" stroke-width="0.9"/>
<path d="M475.08,95.80 475.22,95.91 475.40,98.52 476.16,106.70 476.75,112.61 477.03,114.66 477.17,115.45 477.31,116.02 477.60,116.93 478.02,117.95 478.58,119.09 479.15,120.11 479.78,120.91 481.55,122.84 482.52,123.75 482.76,124.09 482.81,124.32 482.76,124.55 482.52,124.89 482.27,125.11 481.80,125.45 480.31,126.36 479.88,126.59 479.08,126.93 477.29,127.61 476.56,127.95 476.22,128.18 475.83,128.52 475.48,128.86 475.22,129.20 475.08,129.32 474.94,129.20 474.68,128.86 474.33,128.52 473.94,128.18 473.60,127.95 472.87,127.61 471.08,126.93 470.28,126.59 469.85,126.36 468.36,125.45 467.89,125.11 467.64,124.89 467.40,124.55 467.35,124.32 467.40,124.09 467.64,123.75 468.61,122.84 470.38,120.91 471.01,120.11 471.58,119.09 472.14,117.95 472.56,116.93 472.85,116.02 472.99,115.45 473.13,114.66 473.41,112.61 474.00,106.70 474.76,98.52 474.94,95.91Z" fill="#87aced" stroke="#484848" stroke-width="0.5" stroke-linejoin="round"/>
<line x1="475.08" x2="475.08" y1="108.18" y2="128.64" stroke="#4a4a4a" stroke-width="0.4"/>
<line x1="475.08" x2="475.08" y1="113.86" y2="124.77" stroke="#444" stroke-width="1.1"/>
<circle cx="475.08" cy="122.95" r="0.45" fill="#fff" fill-opacity="0.85"/>
<text x="494.35" y="143.20" font-size="4.4" text-anchor="middle">B10</text>
<line x1="494.35" x2="494.35" y1="110.68" y2="128.18" stroke="#66666c" stroke-width="0.8"/>
<line x1="486.65" x2="502.05" y1="128.18" y2="128.18" stroke="#5c5c62" stroke-width="0.95"/>
<text x="513.62" y="143.20" font-size="4.4" text-anchor="middle">B11</text>
<line x1="513.62" x2="513.62" y1="20.91" y2="131.14" stroke="#636369" stroke-width="0.9"/>
<path d="M513.62,32.05 513.76,32.16 514.07,64.32 514.25,75.45 514.44,80.91 514.82,88.75 515.10,93.30 515.47,98.07 515.80,101.48 516.15,104.20 516.63,107.05 517.25,110.00 517.87,112.27 518.89,115.34 519.24,116.25 520.18,118.41 520.56,119.43 521.20,121.59 521.31,122.16 521.35,122.73 521.32,123.07 521.26,123.41 520.97,124.20 520.26,125.57 519.82,126.14 518.98,126.93 517.00,128.52 515.13,129.89 513.88,130.91 513.62,131.02 513.36,130.91 512.11,129.89 510.24,128.52 508.26,126.93 507.42,126.14 506.98,125.57 506.27,124.20 505.98,123.41 505.92,123.07 505.89,122.73 505.93,122.16 506.04,121.59 506.68,119.43 507.06,118.41 508.00,116.25 508.35,115.34 509.37,112.27 509.99,110.00 510.61,107.05 511.09,104.20 511.44,101.48 511.77,98.07 512.14,93.30 512.42,88.75 512.80,80.91 512.99,75.45 513.17,64.32 513.48,32.16Z" fill="#ec83ec" stroke="#484848" stroke-width="0.5" stroke-linejoin="round"/>
<line x1="513.62" x2="513.62" y1="85.45" y2="129.09" stroke="#4a4a4a" stroke-width="0.4"/>
<line x1="513.62" x2="513.62" y1="104.32" y2="126.36" stroke="#444" stroke-width="1.1"/>
<circle cx="513.62" cy="119.77" r="0.45" fill="#fff" fill-opacity="0.85"/>
<text x="532.89" y="143.20" font-size="4.4" text-anchor="middle">B12</text>
<line x1="532.89" x2="532.89" y1="20.91" y2="130.68" stroke="#636369" stroke-width="0.9"/>
<path d="M532.89,93.30 533.03,93.41 533.18,95.91 533.74,101.59 534.18,107.50 534.45,110.34 534.84,113.41 535.07,114.77 535.29,115.80 535.58,116.82 535.97,117.95 536.49,119.20 536.99,120.23 537.72,121.36 539.25,123.41 540.39,124.66 540.58,125.00 540.62,125.23 540.58,125.45 540.48,125.68 540.13,126.14 539.63,126.59 538.50,127.50 537.55,128.07 535.36,129.20 532.89,130.68 530.42,129.20 528.23,128.07 527.28,127.50 526.15,126.59 525.65,126.14 525.30,125.68 525.20,125.45 525.16,125.23 525.20,125.00 525.39,124.66 526.53,123.41 528.06,121.36 528.79,120.23 529.29,119.20 529.81,117.95 530.20,116.82 530.49,115.80 530.71,114.77 530.94,113.41 531.33,110.34 531.60,107.50 532.04,101.59 532.60,95.91 532.75,93.41Z" fill="#ee8bc4" stroke="#484848" stroke-width="0.5" stroke-linejoin="round"/>
<line x1="532.89" x2="532.89" y1="101.36" y2="129.55" stroke="#4a4a4a" stroke-width="0.4"/>
<line x1="532.89" x2="532.89" y1="109.55" y2="126.36" stroke="#444" stroke-width="1.1"/>
<circle cx="532.89" cy="123.41" r="0.45" fill="#fff" fill-opacity="0.85"/>
</g>
<g>
<rect x="23.90" y="155.40" width="249.55" height="120.90" fill="#eaeaf2"/>
<line x1="23.90" x2="273.45" y1="269.55" y2="269.55" stroke="#fff" stroke-width="0.32"/>
<text x="20.60" y="270.70" font-size="3.6" text-anchor="end">0.0</text>
<line x1="23.90" x2="273.45" y1="248.20" y2="248.20" stroke="#fff" stroke-width="0.32"/>
<text x="20.60" y="249.35" font-size="3.6" text-anchor="end">0.1</text>
<line x1="23.90" x2="273.45" y1="226.85" y2="226.85" stroke="#fff" stroke-width="0.32"/>
<text x="20.60" y="228.00" font-size="3.6" text-anchor="end">0.2</text>
<line x1="23.90" x2="273.45" y1="205.50" y2="205.50" stroke="#fff" stroke-width="0.32"/>
<text x="20.60" y="206.65" font-size="3.6" text-anchor="end">0.3</text>
<line x1="23.90" x2="273.45" y1="184.15" y2="184.15" stroke="#fff" stroke-width="0.32"/>
<text x="20.60" y="185.30" font-size="3.6" text-anchor="end">0.4</text>
<line x1="23.90" x2="273.45" y1="162.80" y2="162.80" stroke="#fff" stroke-width="0.32"/>
<text x="20.60" y="163.95" font-size="3.6" text-anchor="end">0.5</text>
<text x="148.28" y="153.00" font-size="6.6" text-anchor="middle">Class - Water</text>
<text transform="translate(11.70,218.30) rotate(-90)" font-size="4.2" text-anchor="middle">Surface Reflectance (ρ)</text>
<text x="32.85" y="283.20" font-size="4.4" text-anchor="middle">B01</text>
<line x1="32.85" x2="32.85" y1="160.91" y2="270.45" stroke="#636369" stroke-width="0.9"/>
<path d="M32.85,216.48 32.99,216.59 33.08,220.34 33.19,222.50 33.24,222.84 33.40,223.41 33.81,224.43 34.50,225.57 34.60,225.80 34.66,226.02 34.66,226.25 34.61,226.48 34.14,227.39 34.02,227.73 33.99,228.07 34.04,228.41 34.28,229.20 34.46,229.55 34.77,229.89 35.51,230.57 35.69,230.80 35.79,231.02 35.80,231.25 35.76,231.48 35.42,232.50 35.36,232.84 35.38,233.41 35.54,234.09 35.80,234.77 35.87,234.89 36.09,235.11 37.47,236.02 38.98,237.16 39.52,237.61 39.94,238.07 40.12,238.41 40.39,239.32 40.53,240.00 40.58,240.68 40.52,241.25 40.31,241.93 39.87,242.84 39.67,243.18 39.49,243.41 39.22,243.64 38.71,243.98 36.86,245.00 34.74,246.25 34.08,246.70 33.85,246.93 33.53,247.39 33.21,247.95 33.00,248.52 32.85,248.64 32.70,248.52 32.49,247.95 32.17,247.39 31.85,246.93 31.62,246.70 30.96,246.25 28.84,245.00 26.99,243.98 26.48,243.64 26.21,243.41 26.03,243.18 25.83,242.84 25.39,241.93 25.18,241.25 25.12,240.68 25.17,240.00 25.31,239.32 25.58,238.41 25.76,238.07 26.18,237.61 26.72,237.16 28.23,236.02 29.61,235.11 29.83,234.89 29.90,234.77 30.16,234.09 30.32,233.41 30.34,232.84 30.28,232.50 29.94,231.48 29.90,231.25 29.91,231.02 30.01,230.80 30.19,230.57 30.93,229.89 31.24,229.55 31.42,229.20 31.66,228.41 31.71,228.07 31.68,227.73 31.56,227.39 31.09,226.48 31.04,226.25 31.04,226.02 31.10,225.80 31.20,225.57 31.89,224.43 32.30,223.41 32.46,222.84 32.51,222.50 32.62,220.34 32.71,216.59ZM32.85,267.16 33.04,267.27 33.48,267.84 33.69,268.41 33.76,268.86 33.73,269.09 33.65,269.32 33.35,269.89 33.07,270.23 32.85,270.34 32.63,270.23 32.35,269.89 32.05,269.32 31.97,269.09 31.94,268.86 32.01,268.41 32.22,267.84 32.66,267.27Z" fill="#ef909f" stroke="#484848" stroke-width="0.5" stroke-linejoin="round"/>
<line x1="32.85" x2="32.85" y1="231.14" y2="247.73" stroke="#4a4a4a" stroke-width="0.4"/>
<line x1="32.85" x2="32.85" y1="237.95" y2="244.77" stroke="#444" stroke-width="1.1"/>
<circle cx="32.85" cy="241.36" r="0.45" fill="#fff" fill-opacity="0.85"/>
<text x="52.12" y="283.20" font-size="4.4" text-anchor="middle">B02</text>
<line x1="52.12" x2="52.12" y1="160.91" y2="270.45" stroke="#636369" stroke-width="0.9"/>
<path d="M52.12,224.09 52.26,224.20 52.59,228.75 52.80,230.68 52.97,231.36 53.46,232.73 53.59,233.30 53.70,236.02 53.80,236.59 54.12,237.27 55.02,238.75 55.95,240.68 56.44,241.59 56.86,242.27 58.41,244.55 59.49,246.02 59.77,246.59 59.85,247.05 59.78,247.84 59.58,248.75 59.34,249.43 59.07,249.77 58.81,250.00 58.33,250.34 56.02,251.70 53.97,252.73 53.40,253.07 53.12,253.30 52.87,253.64 52.47,254.32 52.27,254.89 52.12,255.00 51.97,254.89 51.77,254.32 51.37,253.64 51.12,253.30 50.84,253.07 50.27,252.73 48.22,251.70 45.91,250.34 45.43,250.00 45.17,249.77 44.90,249.43 44.66,248.75 44.46,247.84 44.39,247.05 44.47,246.59 44.75,246.02 45.83,244.55 47.38,242.27 47.80,241.59 48.29,240.68 49.22,238.75 50.12,237.27 50.44,236.59 50.54,236.02 50.65,233.30 50.78,232.73 51.27,231.36 51.44,230.68 51.65,228.75 51.98,224.20ZM52.12,267.61 52.31,267.73 52.76,268.30 52.87,268.75 52.92,269.32 52.86,269.55 52.57,270.00 52.38,270.23 52.12,270.34 51.86,270.23 51.67,270.00 51.38,269.55 51.32,269.32 51.37,268.75 51.48,268.30 51.93,267.73Z" fill="#eb9158" stroke="#484848" stroke-width="0.5" stroke-linejoin="round"/>
<line x1="52.12" x2="52.12" y1="236.82" y2="253.86" stroke="#4a4a4a" stroke-width="0.4"/>
<line x1="52.12" x2="52.12" y1="243.64" y2="250.91" stroke="#444" stroke-width="1.1"/>
<circle cx="52.12" cy="247.50" r="0.45" fill="#fff" fill-opacity="0.85"/>
<text x="71.39" y="283.20" font-size="4.4" text-anchor="middle">B03</text>
<line x1="71.39" x2="71.39" y1="160.91" y2="270.45" stroke="#636369" stroke-width="0.9"/>
<path d="M71.39,225.91 71.53,226.02 71.64,226.82 71.87,228.07 72.18,229.09 72.28,229.55 72.28,230.23 72.11,231.82 72.07,232.50 72.12,233.98 72.25,235.57 72.64,238.75 73.21,241.59 73.64,244.09 73.89,245.23 74.10,245.91 74.37,246.59 74.80,247.50 75.21,248.30 75.80,249.20 77.08,251.02 78.03,252.27 78.46,252.95 78.66,253.41 78.97,254.32 79.08,254.77 79.12,255.23 79.03,255.57 78.90,255.80 78.71,256.02 78.22,256.48 77.37,257.16 76.53,257.61 74.97,258.30 74.27,258.64 73.40,259.20 72.66,259.77 72.31,260.11 72.07,260.45 71.72,261.25 71.53,261.93 71.39,262.05 71.25,261.93 71.06,261.25 70.71,260.45 70.47,260.11 70.12,259.77 69.38,259.20 68.51,258.64 67.81,258.30 66.25,257.61 65.41,257.16 64.56,256.48 64.07,256.02 63.88,255.80 63.75,255.57 63.66,255.23 63.70,254.77 63.81,254.32 64.12,253.41 64.32,252.95 64.75,252.27 65.70,251.02 66.98,249.20 67.57,248.30 67.98,247.50 68.41,246.59 68.68,245.91 68.89,245.23 69.14,244.09 69.57,241.59 70.14,238.75 70.53,235.57 70.66,233.98 70.71,232.50 70.67,231.82 70.50,230.23 70.50,229.55 70.60,229.09 70.91,228.07 71.14,226.82 71.25,226.02ZM71.39,267.16 71.57,267.27 71.92,267.84 72.04,268.41 72.07,268.86 72.00,269.20 71.57,270.11 71.39,270.23 71.21,270.11 70.78,269.20 70.71,268.86 70.74,268.41 70.86,267.84 71.21,267.27Z" fill="#c59e42" stroke="#484848" stroke-width="0.5" stroke-linejoin="round"/>
<line x1="71.39" x2="71.39" y1="241.36" y2="260.00" stroke="#4a4a4a" stroke-width="0.4"/>
<line x1="71.39" x2="71.39" y1="249.32" y2="257.27" stroke="#444" stroke-width="1.1"/>
<circle cx="71.39" cy="253.86" r="0.45" fill="#fff" fill-opacity="0.85"/>
<text x="90.66" y="283.20" font-size="4.4" text-anchor="middle">B04</text>
<line x1="90.66" x2="90.66" y1="160.91" y2="270.45" stroke="#636369" stroke-width="0.9"/>
<path d="M90.66,245.68 90.80,245.80 90.90,246.59 91.32,248.75 91.79,251.70 92.08,253.18 92.47,254.55 92.74,255.23 93.05,255.91 93.29,256.36 93.58,256.82 94.03,257.39 94.54,257.95 95.22,258.64 96.87,259.89 97.87,260.80 98.27,261.25 98.37,261.48 98.39,261.59 98.37,261.70 98.23,261.93 97.82,262.27 97.23,262.61 96.11,263.18 95.55,263.41 93.19,264.09 92.54,264.32 92.14,264.55 91.91,264.77 91.61,265.11 91.38,265.45 91.21,265.80 91.14,266.02 91.03,266.82 90.91,268.41 90.81,269.32 90.66,269.43 90.51,269.32 90.41,268.41 90.29,266.82 90.18,266.02 90.11,265.80 89.94,265.45 89.71,265.11 89.41,264.77 89.18,264.55 88.78,264.32 88.13,264.09 85.77,263.41 85.21,263.18 84.09,262.61 83.50,262.27 83.09,261.93 82.95,261.70 82.93,261.59 82.95,261.48 83.05,261.25 83.45,260.80 84.45,259.89 86.10,258.64 86.78,257.95 87.29,257.39 87.74,256.82 88.03,256.36 88.27,255.91 88.58,255.23 88.85,254.55 89.24,253.18 89.53,251.70 90.00,248.75 90.42,246.59 90.52,245.80Z" fill="#a5a63f" stroke="#484848" stroke-width="0.5" stroke-linejoin="round"/>
<line x1="90.66" x2="90.66" y1="253.86" y2="265.23" stroke="#4a4a4a" stroke-width="0.4"/>
<line x1="90.66" x2="90.66" y1="258.41" y2="262.95" stroke="#444" stroke-width="1.1"/>
<circle cx="90.66" cy="261.14" r="0.45" fill="#fff" fill-opacity="0.85"/>
<text x="109.93" y="283.20" font-size="4.4" text-anchor="middle">B05</text>
<line x1="109.93" x2="109.93" y1="160.91" y2="270.45" stroke="#636369" stroke-width="0.9"/>
<path d="M109.93,247.50 110.07,247.61 110.27,248.98 110.92,252.27 111.28,253.86 111.54,254.77 111.80,255.57 112.12,256.36 112.43,257.05 112.74,257.61 113.12,258.18 113.55,258.75 114.14,259.43 114.76,260.00 116.27,261.14 117.14,261.93 117.54,262.39 117.64,262.61 117.66,262.73 117.63,262.84 117.43,263.07 117.08,263.30 116.62,263.52 114.86,264.32 112.57,265.11 112.00,265.34 111.56,265.57 111.28,265.80 110.74,266.36 110.51,266.70 110.41,266.93 110.31,267.50 110.18,268.86 110.07,269.66 109.93,269.77 109.79,269.66 109.68,268.86 109.55,267.50 109.45,266.93 109.35,266.70 109.12,266.36 108.58,265.80 108.30,265.57 107.86,265.34 107.29,265.11 105.00,264.32 103.24,263.52 102.78,263.30 102.43,263.07 102.23,262.84 102.20,262.73 102.22,262.61 102.32,262.39 102.72,261.93 103.59,261.14 105.10,260.00 105.72,259.43 106.31,258.75 106.74,258.18 107.12,257.61 107.43,257.05 107.74,256.36 108.06,255.57 108.32,254.77 108.58,253.86 108.94,252.27 109.59,248.98 109.79,247.61Z" fill="#7ab140" stroke="#484848" stroke-width="0.5" stroke-linejoin="round"/>
<line x1="109.93" x2="109.93" y1="255.00" y2="266.36" stroke="#4a4a4a" stroke-width="0.4"/>
<line x1="109.93" x2="109.93" y1="259.55" y2="263.86" stroke="#444" stroke-width="1.1"/>
<circle cx="109.93" cy="262.27" r="0.45" fill="#fff" fill-opacity="0.85"/>
<text x="129.20" y="283.20" font-size="4.4" text-anchor="middle">B06</text>
<line x1="129.20" x2="129.20" y1="160.91" y2="270.45" stroke="#636369" stroke-width="0.9"/>
<path d="M129.20,251.02 129.34,251.14 129.45,252.05 129.62,252.95 130.11,255.00 130.33,255.80 130.61,256.59 130.90,257.27 131.23,257.95 131.61,258.64 131.94,259.09 132.44,259.66 133.75,260.91 134.40,261.36 135.85,262.16 136.40,262.50 136.78,262.84 136.91,263.07 136.93,263.18 136.84,263.41 136.61,263.64 136.25,263.86 135.81,264.09 133.49,265.11 131.15,265.91 130.63,266.14 130.45,266.25 130.34,266.36 130.20,266.59 129.98,267.05 129.77,267.73 129.36,269.43 129.20,269.55 129.04,269.43 128.63,267.73 128.42,267.05 128.20,266.59 128.06,266.36 127.95,266.25 127.77,266.14 127.25,265.91 124.91,265.11 122.59,264.09 122.15,263.86 121.79,263.64 121.56,263.41 121.47,263.18 121.49,263.07 121.62,262.84 122.00,262.50 122.55,262.16 124.00,261.36 124.65,260.91 125.96,259.66 126.46,259.09 126.79,258.64 127.17,257.95 127.50,257.27 127.79,256.59 128.07,255.80 128.29,255.00 128.78,252.95 128.95,252.05 129.06,251.14Z" fill="#42b579" stroke="#484848" stroke-width="0.5" stroke-linejoin="round"/>
<line x1="129.20" x2="129.20" y1="256.82" y2="267.05" stroke="#4a4a4a" stroke-width="0.4"/>
<line x1="129.20" x2="129.20" y1="260.91" y2="264.77" stroke="#444" stroke-width="1.1"/>
<circle cx="129.20" cy="263.18" r="0.45" fill="#fff" fill-opacity="0.85"/>
<text x="148.47" y="283.20" font-size="4.4" text-anchor="middle">B07</text>
<line x1="148.47" x2="148.47" y1="160.91" y2="270.91" stroke="#636369" stroke-width="0.9"/>
<path d="M148.47,252.16 148.61,252.27 148.72,253.18 148.88,254.09 149.17,255.34 149.51,256.59 149.72,257.16 150.03,257.84 150.40,258.52 150.82,259.20 151.18,259.66 151.61,260.11 153.02,261.36 153.69,261.82 155.14,262.61 155.68,262.95 156.05,263.30 156.18,263.52 156.20,263.64 156.17,263.75 156.00,263.98 155.70,264.20 155.28,264.43 152.52,265.68 150.50,266.48 150.03,266.70 149.71,266.93 149.47,267.27 149.26,267.73 149.05,268.41 148.61,270.11 148.47,270.23 148.33,270.11 147.89,268.41 147.68,267.73 147.47,267.27 147.23,266.93 146.91,266.70 146.44,266.48 144.42,265.68 141.66,264.43 141.24,264.20 140.94,263.98 140.77,263.75 140.74,263.64 140.76,263.52 140.89,263.30 141.26,262.95 141.80,262.61 143.25,261.82 143.92,261.36 145.33,260.11 145.76,259.66 146.12,259.20 146.54,258.52 146.91,257.84 147.22,257.16 147.43,256.59 147.77,255.34 148.06,254.09 148.22,253.18 148.33,252.27Z" fill="#44b39e" stroke="#484848" stroke-width="0.5" stroke-linejoin="round"/>
<line x1="148.47" x2="148.47" y1="257.27" y2="267.73" stroke="#4a4a4a" stroke-width="0.4"/>
<line x1="148.47" x2="148.47" y1="261.36" y2="265.23" stroke="#444" stroke-width="1.1"/>
<circle cx="148.47" cy="263.64" r="0.45" fill="#fff" fill-opacity="0.85"/>
<text x="167.74" y="283.20" font-size="4.4" text-anchor="middle">B08</text>
<line x1="167.74" x2="167.74" y1="160.91" y2="271.36" stroke="#636369" stroke-width="0.9"/>
<path d="M167.74,253.30 167.88,253.41 167.98,254.32 168.17,255.34 168.47,256.59 168.79,257.73 169.01,258.30 169.29,258.86 169.61,259.43 170.05,260.11 170.66,260.91 171.39,261.59 173.36,263.07 174.79,263.86 175.14,264.09 175.38,264.32 175.47,264.55 175.44,264.66 175.27,264.89 174.76,265.23 172.75,266.14 171.82,266.59 169.98,267.39 169.54,267.61 169.22,267.84 168.93,268.18 168.60,268.75 168.28,269.55 167.90,270.68 167.74,270.80 167.58,270.68 167.20,269.55 166.88,268.75 166.55,268.18 166.26,267.84 165.94,267.61 165.50,267.39 163.66,266.59 162.73,266.14 160.72,265.23 160.21,264.89 160.04,264.66 160.01,264.55 160.10,264.32 160.34,264.09 160.69,263.86 162.12,263.07 164.09,261.59 164.82,260.91 165.43,260.11 165.87,259.43 166.19,258.86 166.47,258.30 166.69,257.73 167.01,256.59 167.31,255.34 167.50,254.32 167.60,253.41Z" fill="#46b1b5" stroke="#484848" stroke-width="0.5" stroke-linejoin="round"/>
<line x1="167.74" x2="167.74" y1="258.41" y2="268.64" stroke="#4a4a4a" stroke-width="0.4"/>
<line x1="167.74" x2="167.74" y1="262.27" y2="266.36" stroke="#444" stroke-width="1.1"/>
<circle cx="167.74" cy="264.55" r="0.45" fill="#fff" fill-opacity="0.85"/>
<text x="187.01" y="283.20" font-size="4.4" text-anchor="middle">B8A</text>
<line x1="187.01" x2="187.01" y1="160.91" y2="271.36" stroke="#636369" stroke-width="0.9"/>
<path d="M187.01,253.30 187.15,253.41 187.24,254.32 187.40,255.23 187.61,256.14 187.92,257.27 188.15,257.84 188.56,258.52 189.45,259.66 190.27,260.57 192.60,262.61 193.88,263.52 194.31,263.86 194.62,264.20 194.72,264.43 194.74,264.55 194.66,264.77 194.46,265.00 194.15,265.23 193.76,265.45 191.58,266.59 189.22,267.61 188.80,267.84 188.48,268.07 188.21,268.41 187.94,268.86 187.68,269.43 187.18,270.80 187.01,270.91 186.84,270.80 186.34,269.43 186.08,268.86 185.81,268.41 185.54,268.07 185.22,267.84 184.80,267.61 182.44,266.59 180.26,265.45 179.87,265.23 179.56,265.00 179.36,264.77 179.28,264.55 179.30,264.43 179.40,264.20 179.71,263.86 180.14,263.52 181.42,262.61 183.75,260.57 184.57,259.66 185.46,258.52 185.87,257.84 186.10,257.27 186.41,256.14 186.62,255.23 186.78,254.32 186.87,253.41Z" fill="#4ab0d1" stroke="#484848" stroke-width="0.5" stroke-linejoin="round"/>
<line x1="187.01" x2="187.01" y1="258.41" y2="268.64" stroke="#4a4a4a" stroke-width="0.4"/>
<line x1="187.01" x2="187.01" y1="262.27" y2="266.36" stroke="#444" stroke-width="1.1"/>
<circle cx="187.01" cy="264.55" r="0.45" fill="#fff" fill-opacity="0.85"/>
<text x="206.28" y="283.20" font-size="4.4" text-anchor="middle">B09</text>
<line x1="206.28" x2="206.28" y1="160.91" y2="270.45" stroke="#636369" stroke-width="0.9"/>
<path d="M206.28,260.00 206.42,260.11 206.52,260.80 206.68,261.48 206.89,262.16 207.19,262.95 207.47,263.41 207.90,263.86 208.62,264.43 209.67,265.11 210.57,265.45 213.14,266.25 213.67,266.48 213.85,266.59 213.97,266.70 214.01,266.82 213.96,266.93 213.82,267.05 213.31,267.27 212.59,267.50 210.08,268.18 209.21,268.52 208.27,268.98 207.45,269.43 206.96,269.77 206.47,270.23 206.28,270.34 206.09,270.23 205.60,269.77 205.11,269.43 204.29,268.98 203.35,268.52 202.48,268.18 199.97,267.50 199.25,267.27 198.74,267.05 198.60,266.93 198.55,266.82 198.59,266.70 198.71,266.59 198.89,266.48 199.42,266.25 201.99,265.45 202.89,265.11 203.94,264.43 204.66,263.86 205.09,263.41 205.37,262.95 205.67,262.16 205.88,261.48 206.04,260.80 206.14,260.11Z" fill="#87aced" stroke="#484848" stroke-width="0.5" stroke-linejoin="round"/>
<line x1="206.28" x2="206.28" y1="263.64" y2="269.32" stroke="#4a4a4a" stroke-width="0.4"/>
<line x1="206.28" x2="206.28" y1="265.68" y2="267.95" stroke="#444" stroke-width="1.1"/>
<circle cx="206.28" cy="266.82" r="0.45" fill="#fff" fill-opacity="0.85"/>
<text x="225.55" y="283.20" font-size="4.4" text-anchor="middle">B10</text>
<line x1="225.55" x2="225.55" y1="257.27" y2="268.41" stroke="#66666c" stroke-width="0.8"/>
<line x1="217.85" x2="233.25" y1="268.41" y2="268.41" stroke="#5c5c62" stroke-width="0.95"/>
<text x="244.82" y="283.20" font-size="4.4" text-anchor="middle">B11</text>
<line x1="244.82" x2="244.82" y1="160.91" y2="271.36" stroke="#636369" stroke-width="0.9"/>
<path d="M244.82,259.89 244.96,260.00 245.02,260.45 245.16,261.02 245.35,261.59 245.58,262.16 246.02,263.07 246.41,263.52 246.80,263.86 247.26,264.20 248.65,265.11 249.39,265.45 251.18,266.14 251.95,266.48 252.32,266.70 252.44,266.82 252.52,266.93 252.55,267.05 252.51,267.16 252.42,267.27 252.27,267.39 251.84,267.61 251.26,267.84 248.97,268.64 248.46,268.86 247.16,269.55 246.38,270.00 245.88,270.34 245.34,270.80 245.00,271.14 244.82,271.25 244.64,271.14 244.30,270.80 243.76,270.34 243.26,270.00 242.48,269.55 241.18,268.86 240.67,268.64 238.38,267.84 237.80,267.61 237.37,267.39 237.22,267.27 237.13,267.16 237.09,267.05 237.12,266.93 237.20,266.82 237.32,266.70 237.69,266.48 238.46,266.14 240.25,265.45 240.99,265.11 242.38,264.20 242.84,263.86 243.23,263.52 243.62,263.07 244.06,262.16 244.29,261.59 244.48,261.02 244.62,260.45 244.68,260.00Z" fill="#ec83ec" stroke="#484848" stroke-width="0.5" stroke-linejoin="round"/>
<line x1="244.82" x2="244.82" y1="263.64" y2="270.00" stroke="#4a4a4a" stroke-width="0.4"/>
<line x1="244.82" x2="244.82" y1="265.68" y2="268.41" stroke="#444" stroke-width="1.1"/>
<circle cx="244.82" cy="267.05" r="0.45" fill="#fff" fill-opacity="0.85"/>
<text x="264.09" y="283.20" font-size="4.4" text-anchor="middle">B12</text>
<line x1="264.09" x2="264.09" y1="160.91" y2="271.36" stroke="#636369" stroke-width="0.9"/>
<path d="M264.09,261.02 264.24,261.14 264.33,261.59 264.51,262.16 264.75,262.73 265.10,263.41 265.30,263.75 265.47,263.98 265.93,264.43 266.85,265.11 267.93,265.80 268.77,266.14 271.06,266.93 271.52,267.16 271.68,267.27 271.78,267.39 271.82,267.50 271.77,267.61 271.65,267.73 271.21,267.95 270.58,268.18 268.01,268.98 265.97,269.89 265.34,270.23 265.00,270.45 264.59,270.80 264.25,271.14 264.09,271.25 263.93,271.14 263.59,270.80 263.18,270.45 262.84,270.23 262.21,269.89 260.17,268.98 257.60,268.18 256.97,267.95 256.53,267.73 256.41,267.61 256.36,267.50 256.40,267.39 256.50,267.27 256.66,267.16 257.12,266.93 259.41,266.14 260.25,265.80 261.33,265.11 262.25,264.43 262.71,263.98 262.88,263.75 263.08,263.41 263.43,262.73 263.67,262.16 263.85,261.59 263.94,261.14Z" fill="#ee8bc4" stroke="#484848" stroke-width="0.5" stroke-linejoin="round"/>
<line x1="264.09" x2="264.09" y1="264.09" y2="270.23" stroke="#4a4a4a" stroke-width="0.4"/>
<line x1="264.09" x2="264.09" y1="266.36" y2="268.86" stroke="#444" stroke-width="1.1"/>
<circle cx="264.09" cy="267.50" r="0.45" fill="#fff" fill-opacity="0.85"/>
</g>
<g>
<rect x="292.70" y="155.40" width="249.55" height="120.90" fill="#eaeaf2"/>
<line x1="292.70" x2="542.25" y1="269.55" y2="269.55" stroke="#fff" stroke-width="0.32"/>
<text x="289.40" y="270.70" font-size="3.6" text-anchor="end">0.0</text>
<line x1="292.70" x2="542.25" y1="248.20" y2="248.20" stroke="#fff" stroke-width="0.32"/>
<text x="289.40" y="249.35" font-size="3.6" text-anchor="end">0.1</text>
<line x1="292.70" x2="542.25" y1="226.85" y2="226.85" stroke="#fff" stroke-width="0.32"/>
<text x="289.40" y="228.00" font-size="3.6" text-anchor="end">0.2</text>
<line x1="292.70" x2="542.25" y1="205.50" y2="205.50" stroke="#fff" stroke-width="0.32"/>
<text x="289.40" y="206.65" font-size="3.6" text-anchor="end">0.3</text>
<line x1="292.70" x2="542.25" y1="184.15" y2="184.15" stroke="#fff" stroke-width="0.32"/>
<text x="289.40" y="185.30" font-size="3.6" text-anchor="end">0.4</text>
<line x1="292.70" x2="542.25" y1="162.80" y2="162.80" stroke="#fff" stroke-width="0.32"/>
<text x="289.40" y="163.95" font-size="3.6" text-anchor="end">0.5</text>
<text x="417.08" y="153.00" font-size="6.6" text-anchor="middle">Class - Cirrus</text>
<text transform="translate(280.50,218.30) rotate(-90)" font-size="4.2" text-anchor="middle">Surface Reflectance (ρ)</text>
<text x="301.65" y="283.20" font-size="4.4" text-anchor="middle">B01</text>
<line x1="301.65" x2="301.65" y1="160.91" y2="270.23" stroke="#636369" stroke-width="0.9"/>
<path d="M301.65,201.36 301.79,201.48 301.87,202.27 302.02,203.18 302.90,207.50 303.32,210.45 303.50,211.36 303.67,211.82 303.90,212.27 305.33,214.55 305.85,215.45 306.18,216.14 306.56,217.16 307.20,219.43 308.24,222.05 308.43,222.73 308.52,223.30 308.57,223.86 308.62,225.34 308.71,226.14 308.87,226.82 309.44,228.64 309.55,229.20 309.58,229.66 309.54,230.23 309.41,230.80 309.16,231.36 308.54,232.50 308.29,233.07 308.13,233.64 307.78,235.23 307.60,235.80 307.41,236.25 307.12,236.82 306.84,237.27 305.56,238.98 305.02,239.77 304.71,240.34 304.00,241.93 303.84,242.39 303.76,242.84 303.84,244.20 303.82,244.43 303.76,244.66 303.54,245.11 302.87,246.14 302.27,247.27 302.13,247.61 302.04,247.95 301.80,249.09 301.65,249.20 301.50,249.09 301.26,247.95 301.17,247.61 301.03,247.27 300.43,246.14 299.76,245.11 299.54,244.66 299.48,244.43 299.46,244.20 299.54,242.84 299.46,242.39 299.30,241.93 298.59,240.34 298.28,239.77 297.74,238.98 296.46,237.27 296.18,236.82 295.89,236.25 295.70,235.80 295.52,235.23 295.17,233.64 295.01,233.07 294.76,232.50 294.14,231.36 293.89,230.80 293.76,230.23 293.72,229.66 293.75,229.20 293.86,228.64 294.43,226.82 294.59,226.14 294.68,225.34 294.73,223.86 294.78,223.30 294.87,222.73 295.06,222.05 296.10,219.43 296.74,217.16 297.12,216.14 297.45,215.45 297.97,214.55 299.40,212.27 299.63,211.82 299.80,211.36 299.98,210.45 300.40,207.50 301.28,203.18 301.43,202.27 301.51,201.48ZM301.65,266.59 302.43,267.16 302.53,267.27 302.90,267.95 302.97,268.18 303.01,268.41 302.98,268.64 302.90,268.86 302.46,269.55 302.12,269.89 301.65,270.23 301.18,269.89 300.84,269.55 300.40,268.86 300.32,268.64 300.29,268.41 300.33,268.18 300.40,267.95 300.77,267.27 300.87,267.16Z" fill="#ef909f" stroke="#484848" stroke-width="0.5" stroke-linejoin="round"/>
<line x1="301.65" x2="301.65" y1="205.00" y2="245.91" stroke="#4a4a4a" stroke-width="0.4"/>
<line x1="301.65" x2="301.65" y1="217.95" y2="234.77" stroke="#444" stroke-width="1.1"/>
<circle cx="301.65" cy="226.14" r="0.45" fill="#fff" fill-opacity="0.85"/>
<text x="320.92" y="283.20" font-size="4.4" text-anchor="middle">B02</text>
<line x1="320.92" x2="320.92" y1="160.91" y2="270.23" stroke="#636369" stroke-width="0.9"/>
<path d="M320.92,207.61 321.06,207.73 321.15,208.30 321.29,208.86 321.88,210.91 322.08,211.48 322.76,213.07 323.99,215.68 324.32,216.59 324.76,218.07 325.03,218.86 325.35,219.66 326.08,221.25 326.44,222.27 326.64,223.18 326.84,224.77 326.98,225.57 327.19,226.36 327.73,227.95 327.92,228.75 328.01,229.66 327.95,231.36 328.00,232.16 328.15,232.84 328.72,234.43 328.81,234.89 328.84,235.34 328.76,236.02 328.55,236.70 326.53,241.36 326.07,242.27 325.74,242.84 324.15,245.23 323.15,247.16 323.03,247.50 322.98,247.84 323.03,249.43 323.01,250.23 322.97,250.45 322.76,250.91 322.09,251.93 321.65,252.84 321.40,253.52 321.17,254.43 321.07,255.00 320.92,255.11 320.77,255.00 320.67,254.43 320.44,253.52 320.19,252.84 319.75,251.93 319.08,250.91 318.87,250.45 318.83,250.23 318.81,249.43 318.86,247.84 318.81,247.50 318.69,247.16 317.69,245.23 316.10,242.84 315.77,242.27 315.31,241.36 313.29,236.70 313.08,236.02 313.00,235.34 313.03,234.89 313.12,234.43 313.69,232.84 313.84,232.16 313.89,231.36 313.83,229.66 313.92,228.75 314.11,227.95 314.65,226.36 314.86,225.57 315.00,224.77 315.20,223.18 315.40,222.27 315.76,221.25 316.49,219.66 316.81,218.86 317.08,218.07 317.52,216.59 317.85,215.68 319.08,213.07 319.76,211.48 319.96,210.91 320.55,208.86 320.69,208.30 320.78,207.73ZM320.92,266.59 321.61,267.16 321.70,267.27 321.98,267.95 322.07,268.41 322.05,268.64 321.98,268.86 321.62,269.55 321.33,269.89 320.92,270.23 320.51,269.89 320.22,269.55 319.86,268.86 319.79,268.64 319.77,268.41 319.86,267.95 320.14,267.27 320.23,267.16Z" fill="#eb9158" stroke="#484848" stroke-width="0.5" stroke-linejoin="round"/>
<line x1="320.92" x2="320.92" y1="208.41" y2="251.59" stroke="#4a4a4a" stroke-width="0.4"/>
<line x1="320.92" x2="320.92" y1="220.91" y2="237.05" stroke="#444" stroke-width="1.1"/>
<circle cx="320.92" cy="229.09" r="0.45" fill="#fff" fill-opacity="0.85"/>
<text x="340.19" y="283.20" font-size="4.4" text-anchor="middle">B03</text>
<line x1="340.19" x2="340.19" y1="160.91" y2="270.45" stroke="#636369" stroke-width="0.9"/>
<path d="M340.19,199.89 340.33,200.00 340.52,201.02 341.23,203.52 341.85,206.48 342.56,209.09 342.96,210.34 343.29,211.25 344.44,213.86 344.79,214.77 345.07,215.80 345.39,217.61 345.58,218.41 345.86,219.20 346.57,220.91 346.80,221.59 346.90,222.05 346.98,222.61 347.04,224.43 347.11,225.11 347.30,225.91 347.90,227.73 348.01,228.30 348.06,228.86 348.00,229.66 347.73,231.14 347.64,231.93 347.66,232.73 347.82,234.32 347.80,235.23 347.64,236.14 347.14,237.84 346.97,238.64 346.90,239.43 346.88,241.36 346.81,241.93 346.68,242.50 346.46,243.18 345.86,244.66 345.63,245.34 345.42,246.14 345.06,247.95 344.85,248.64 344.63,249.20 344.22,250.00 343.74,250.80 342.04,253.41 341.24,254.43 340.93,254.89 340.77,255.23 340.55,255.91 340.34,256.82 340.19,256.93 340.04,256.82 339.83,255.91 339.61,255.23 339.45,254.89 339.14,254.43 338.34,253.41 336.64,250.80 336.16,250.00 335.75,249.20 335.53,248.64 335.32,247.95 334.96,246.14 334.75,245.34 334.52,244.66 333.92,243.18 333.70,242.50 333.57,241.93 333.50,241.36 333.48,239.43 333.41,238.64 333.24,237.84 332.74,236.14 332.58,235.23 332.56,234.32 332.72,232.73 332.74,231.93 332.65,231.14 332.38,229.66 332.32,228.86 332.37,228.30 332.48,227.73 333.08,225.91 333.27,225.11 333.34,224.43 333.40,222.61 333.48,222.05 333.58,221.59 333.81,220.91 334.52,219.20 334.80,218.41 334.99,217.61 335.31,215.80 335.59,214.77 335.94,213.86 337.09,211.25 337.42,210.34 337.82,209.09 338.53,206.48 339.15,203.52 339.86,201.02 340.05,200.00ZM340.19,266.48 340.39,266.59 340.81,267.05 340.98,267.27 341.26,267.95 341.35,268.41 341.32,268.64 341.25,268.86 340.83,269.66 340.39,270.23 340.19,270.34 339.99,270.23 339.55,269.66 339.13,268.86 339.06,268.64 339.03,268.41 339.12,267.95 339.40,267.27 339.57,267.05 339.99,266.59Z" fill="#c59e42" stroke="#484848" stroke-width="0.5" stroke-linejoin="round"/>
<line x1="340.19" x2="340.19" y1="202.73" y2="255.00" stroke="#4a4a4a" stroke-width="0.4"/>
<line x1="340.19" x2="340.19" y1="218.86" y2="240.68" stroke="#444" stroke-width="1.1"/>
<circle cx="340.19" cy="230.45" r="0.45" fill="#fff" fill-opacity="0.85"/>
<text x="359.46" y="283.20" font-size="4.4" text-anchor="middle">B04</text>
<line x1="359.46" x2="359.46" y1="160.91" y2="271.36" stroke="#636369" stroke-width="0.9"/>
<path d="M359.46,165.00 359.60,165.11 359.96,170.80 360.56,176.70 360.77,178.07 361.37,181.14 361.78,183.52 362.42,186.70 362.55,187.84 362.61,189.77 362.68,190.57 362.79,191.36 363.12,193.18 363.21,193.86 363.26,194.77 363.23,196.59 363.27,197.39 363.37,198.18 363.70,200.00 363.80,201.02 363.79,201.82 363.67,203.52 363.65,204.32 363.79,206.93 363.75,208.86 363.81,209.77 363.92,210.45 364.06,211.02 364.73,212.95 364.96,213.75 365.09,214.32 365.22,215.34 365.26,216.93 365.32,217.73 365.45,218.52 365.79,220.00 365.89,220.68 365.92,221.25 365.90,221.82 365.65,223.64 365.59,224.43 365.64,225.34 365.95,227.16 366.03,227.95 366.00,228.86 365.79,230.68 365.78,231.48 365.88,232.27 366.26,233.98 366.37,234.77 366.36,235.68 366.19,237.50 366.21,238.41 366.35,239.20 366.79,240.91 366.90,241.70 366.90,242.50 366.76,244.20 366.78,245.00 366.90,245.80 367.33,247.50 367.41,248.30 367.33,248.98 367.05,249.89 366.33,251.70 365.46,253.41 364.74,254.66 364.36,255.23 362.67,257.27 362.08,258.07 360.96,259.77 360.71,260.23 360.51,260.68 360.39,261.14 360.12,262.84 360.03,263.75 360.04,264.55 360.13,265.34 360.35,266.36 360.43,266.59 360.76,267.27 360.83,267.50 360.95,268.18 360.98,268.75 360.91,269.09 360.79,269.43 360.31,270.34 360.07,270.68 359.68,271.14 359.46,271.25 359.24,271.14 358.85,270.68 358.61,270.34 358.13,269.43 358.01,269.09 357.94,268.75 357.97,268.18 358.09,267.50 358.16,267.27 358.49,266.59 358.57,266.36 358.79,265.34 358.88,264.55 358.89,263.75 358.80,262.84 358.53,261.14 358.41,260.68 358.21,260.23 357.96,259.77 356.84,258.07 356.25,257.27 354.56,255.23 354.18,254.66 353.46,253.41 352.59,251.70 351.87,249.89 351.59,248.98 351.51,248.30 351.59,247.50 352.02,245.80 352.14,245.00 352.16,244.20 352.02,242.50 352.02,241.70 352.13,240.91 352.57,239.20 352.71,238.41 352.73,237.50 352.56,235.68 352.55,234.77 352.66,233.98 353.04,232.27 353.14,231.48 353.13,230.68 352.92,228.86 352.89,227.95 352.97,227.16 353.28,225.34 353.33,224.43 353.27,223.64 353.02,221.82 353.00,221.25 353.03,220.68 353.13,220.00 353.47,218.52 353.60,217.73 353.66,216.93 353.70,215.34 353.83,214.32 353.96,213.75 354.19,212.95 354.86,211.02 355.00,210.45 355.11,209.77 355.17,208.86 355.13,206.93 355.27,204.32 355.25,203.52 355.13,201.82 355.12,201.02 355.22,200.00 355.55,198.18 355.65,197.39 355.69,196.59 355.66,194.77 355.71,193.86 355.80,193.18 356.13,191.36 356.24,190.57 356.31,189.77 356.37,187.84 356.50,186.70 357.14,183.52 357.55,181.14 358.15,178.07 358.36,176.70 358.96,170.80 359.32,165.11Z" fill="#a5a63f" stroke="#484848" stroke-width="0.5" stroke-linejoin="round"/>
<line x1="359.46" x2="359.46" y1="180.00" y2="260.68" stroke="#4a4a4a" stroke-width="0.4"/>
<line x1="359.46" x2="359.46" y1="211.14" y2="245.91" stroke="#444" stroke-width="1.1"/>
<circle cx="359.46" cy="228.86" r="0.45" fill="#fff" fill-opacity="0.85"/>
<text x="378.73" y="283.20" font-size="4.4" text-anchor="middle">B05</text>
<line x1="378.73" x2="378.73" y1="160.91" y2="271.59" stroke="#636369" stroke-width="0.9"/>
<path d="M378.73,163.41 378.87,163.52 379.28,168.30 379.47,170.00 380.30,175.11 380.46,175.91 380.66,176.70 381.44,179.09 381.65,179.89 381.78,180.57 382.11,183.07 382.55,185.11 382.66,185.80 382.71,186.48 382.67,187.16 382.26,189.55 382.20,190.11 382.18,190.68 382.24,191.59 382.55,193.98 382.70,196.59 382.86,197.61 383.37,199.55 383.56,200.45 383.64,201.25 383.70,202.95 383.79,203.75 383.97,204.66 384.43,206.36 384.58,207.27 384.62,208.07 384.58,209.89 384.64,210.68 384.79,211.48 385.24,213.18 385.38,213.98 385.41,214.77 385.28,216.59 385.29,217.39 385.40,218.18 385.77,220.00 385.84,220.91 385.77,221.82 385.38,223.86 385.29,224.55 385.25,225.45 385.27,227.95 385.20,228.64 384.99,230.00 384.94,230.57 384.94,231.02 384.98,231.59 385.32,233.52 385.39,234.32 385.37,235.11 385.14,236.82 385.10,237.73 385.19,238.64 385.54,240.23 385.66,241.02 385.68,241.82 385.61,243.41 385.69,244.32 385.78,244.77 385.95,245.34 386.56,246.93 386.64,247.27 386.65,247.50 386.61,247.84 386.49,248.18 386.31,248.52 386.08,248.86 384.64,250.68 382.78,252.84 381.61,254.32 380.40,255.68 380.04,256.25 379.90,256.59 379.86,256.82 379.75,257.95 379.70,259.20 379.65,262.73 379.72,263.07 379.90,263.41 380.16,263.75 381.53,265.11 382.10,265.80 383.08,266.82 383.47,267.27 383.70,267.61 383.80,267.84 383.86,268.07 383.86,268.30 383.82,268.41 383.64,268.64 383.21,268.98 381.38,270.00 378.73,271.59 376.08,270.00 374.25,268.98 373.82,268.64 373.64,268.41 373.60,268.30 373.60,268.07 373.66,267.84 373.76,267.61 373.99,267.27 374.38,266.82 375.36,265.80 375.93,265.11 377.30,263.75 377.56,263.41 377.74,263.07 377.81,262.73 377.76,259.20 377.71,257.95 377.60,256.82 377.56,256.59 377.42,256.25 377.06,255.68 375.85,254.32 374.68,252.84 372.82,250.68 371.38,248.86 371.15,248.52 370.97,248.18 370.85,247.84 370.81,247.50 370.82,247.27 370.90,246.93 371.51,245.34 371.68,244.77 371.77,244.32 371.85,243.41 371.78,241.82 371.80,241.02 371.92,240.23 372.27,238.64 372.36,237.73 372.32,236.82 372.09,235.11 372.07,234.32 372.14,233.52 372.48,231.59 372.52,231.02 372.52,230.57 372.47,230.00 372.26,228.64 372.19,227.95 372.21,225.45 372.17,224.55 372.08,223.86 371.69,221.82 371.62,220.91 371.69,220.00 372.06,218.18 372.17,217.39 372.18,216.59 372.05,214.77 372.08,213.98 372.22,213.18 372.67,211.48 372.82,210.68 372.88,209.89 372.84,208.07 372.88,207.27 373.03,206.36 373.49,204.66 373.67,203.75 373.76,202.95 373.82,201.25 373.90,200.45 374.09,199.55 374.60,197.61 374.76,196.59 374.91,193.98 375.22,191.59 375.28,190.68 375.26,190.11 375.20,189.55 374.79,187.16 374.75,186.48 374.80,185.80 374.91,185.11 375.35,183.07 375.68,180.57 375.81,179.89 376.02,179.09 376.80,176.70 377.00,175.91 377.16,175.11 377.99,170.00 378.18,168.30 378.59,163.52Z" fill="#7ab140" stroke="#484848" stroke-width="0.5" stroke-linejoin="round"/>
<line x1="378.73" x2="378.73" y1="173.18" y2="259.55" stroke="#4a4a4a" stroke-width="0.4"/>
<line x1="378.73" x2="378.73" y1="206.82" y2="241.36" stroke="#444" stroke-width="1.1"/>
<circle cx="378.73" cy="225.45" r="0.45" fill="#fff" fill-opacity="0.85"/>
<text x="398.00" y="283.20" font-size="4.4" text-anchor="middle">B06</text>
<line x1="398.00" x2="398.00" y1="160.91" y2="270.68" stroke="#636369" stroke-width="0.9"/>
<path d="M398.00,162.39 398.14,162.50 398.85,168.64 399.05,169.89 399.62,172.84 399.96,176.14 400.38,178.64 400.49,179.55 400.55,180.45 400.60,182.84 400.89,185.34 400.96,186.25 400.97,187.16 400.87,189.77 401.03,192.39 401.03,194.09 401.10,194.89 401.26,195.68 401.49,196.48 402.63,199.32 402.91,200.11 403.11,200.91 403.43,202.61 403.62,203.41 403.88,204.20 404.43,205.68 404.60,206.25 404.72,206.82 404.79,207.39 404.81,209.32 404.89,210.11 405.10,210.91 405.75,212.73 405.88,213.30 405.92,213.86 405.83,214.66 405.46,216.14 405.32,216.93 405.28,217.73 405.34,219.32 405.31,219.77 405.24,220.23 405.01,221.02 404.24,222.84 403.97,223.64 403.82,224.32 403.57,226.02 403.34,226.93 403.05,227.73 402.23,229.66 401.91,230.68 401.34,233.64 400.62,236.14 400.36,237.27 399.51,242.84 399.34,244.43 399.19,247.39 398.89,251.36 398.65,257.50 398.55,264.20 398.60,265.45 398.71,266.48 398.82,266.70 399.11,267.16 399.31,267.61 399.47,268.07 399.52,268.41 399.48,268.64 399.39,268.86 399.11,269.32 398.43,270.23 398.22,270.45 398.00,270.57 397.78,270.45 397.57,270.23 396.89,269.32 396.61,268.86 396.52,268.64 396.48,268.41 396.53,268.07 396.69,267.61 396.89,267.16 397.18,266.70 397.29,266.48 397.40,265.45 397.45,264.20 397.35,257.50 397.11,251.36 396.81,247.39 396.66,244.43 396.49,242.84 395.64,237.27 395.38,236.14 394.66,233.64 394.09,230.68 393.77,229.66 392.95,227.73 392.66,226.93 392.43,226.02 392.18,224.32 392.03,223.64 391.76,222.84 390.99,221.02 390.76,220.23 390.69,219.77 390.66,219.32 390.72,217.73 390.68,216.93 390.54,216.14 390.17,214.66 390.08,213.86 390.12,213.30 390.25,212.73 390.90,210.91 391.11,210.11 391.19,209.32 391.21,207.39 391.28,206.82 391.40,206.25 391.57,205.68 392.12,204.20 392.38,203.41 392.57,202.61 392.89,200.91 393.09,200.11 393.37,199.32 394.51,196.48 394.74,195.68 394.90,194.89 394.97,194.09 394.97,192.39 395.13,189.77 395.03,187.16 395.04,186.25 395.11,185.34 395.40,182.84 395.45,180.45 395.51,179.55 395.62,178.64 396.04,176.14 396.38,172.84 396.95,169.89 397.15,168.64 397.86,162.50Z" fill="#42b579" stroke="#484848" stroke-width="0.5" stroke-linejoin="round"/>
<line x1="398.00" x2="398.00" y1="173.18" y2="250.45" stroke="#4a4a4a" stroke-width="0.4"/>
<line x1="398.00" x2="398.00" y1="198.64" y2="224.55" stroke="#444" stroke-width="1.1"/>
<circle cx="398.00" cy="211.82" r="0.45" fill="#fff" fill-opacity="0.85"/>
<text x="417.27" y="283.20" font-size="4.4" text-anchor="middle">B07</text>
<line x1="417.27" x2="417.27" y1="160.91" y2="270.68" stroke="#636369" stroke-width="0.9"/>
<path d="M417.27,161.48 417.43,161.59 418.26,165.11 418.50,166.25 418.97,168.86 419.69,172.05 419.82,172.95 420.08,175.57 420.24,176.48 420.79,178.98 420.91,179.89 421.02,181.59 421.11,182.39 421.67,185.34 421.74,186.36 421.71,188.41 421.79,189.32 422.00,190.23 422.64,192.05 422.86,192.84 423.00,193.75 423.08,195.34 423.18,196.14 423.36,196.93 423.83,198.52 423.97,199.20 424.04,200.11 423.94,201.93 423.96,202.73 424.08,203.52 424.54,205.23 424.69,206.02 424.72,206.82 424.58,208.64 424.59,209.43 424.72,210.34 425.14,212.05 425.21,212.50 425.23,212.95 425.20,213.41 425.10,213.98 424.69,215.57 424.45,216.93 423.86,219.43 423.61,220.23 422.76,222.27 422.47,223.18 422.30,223.98 422.07,225.68 421.91,226.48 421.68,227.27 421.09,228.98 420.85,229.77 420.24,232.73 419.44,235.57 419.28,236.25 419.17,236.93 418.87,240.23 418.50,243.52 418.34,246.93 418.14,249.89 418.06,253.86 417.93,257.05 417.86,260.34 417.72,264.32 417.74,266.02 417.87,266.36 418.32,267.05 418.44,267.27 418.71,267.95 418.78,268.41 418.74,268.64 418.59,268.98 417.98,269.89 417.49,270.45 417.27,270.57 417.05,270.45 416.56,269.89 415.95,268.98 415.80,268.64 415.76,268.41 415.83,267.95 416.10,267.27 416.22,267.05 416.67,266.36 416.80,266.02 416.82,264.32 416.68,260.34 416.61,257.05 416.48,253.86 416.40,249.89 416.20,246.93 416.04,243.52 415.67,240.23 415.37,236.93 415.26,236.25 415.10,235.57 414.30,232.73 413.69,229.77 413.45,228.98 412.86,227.27 412.63,226.48 412.47,225.68 412.24,223.98 412.07,223.18 411.78,222.27 410.93,220.23 410.68,219.43 410.09,216.93 409.85,215.57 409.44,213.98 409.34,213.41 409.31,212.95 409.33,212.50 409.40,212.05 409.82,210.34 409.95,209.43 409.96,208.64 409.82,206.82 409.85,206.02 410.00,205.23 410.46,203.52 410.58,202.73 410.60,201.93 410.50,200.11 410.57,199.20 410.71,198.52 411.18,196.93 411.36,196.14 411.46,195.34 411.54,193.75 411.68,192.84 411.90,192.05 412.54,190.23 412.75,189.32 412.83,188.41 412.80,186.36 412.87,185.34 413.43,182.39 413.52,181.59 413.63,179.89 413.75,178.98 414.30,176.48 414.46,175.57 414.72,172.95 414.85,172.05 415.57,168.86 416.04,166.25 416.28,165.11 417.11,161.59Z" fill="#44b39e" stroke="#484848" stroke-width="0.5" stroke-linejoin="round"/>
<line x1="417.27" x2="417.27" y1="170.91" y2="248.18" stroke="#4a4a4a" stroke-width="0.4"/>
<line x1="417.27" x2="417.27" y1="193.64" y2="223.18" stroke="#444" stroke-width="1.1"/>
<circle cx="417.27" cy="208.41" r="0.45" fill="#fff" fill-opacity="0.85"/>
<text x="436.54" y="283.20" font-size="4.4" text-anchor="middle">B08</text>
<line x1="436.54" x2="436.54" y1="160.91" y2="270.68" stroke="#636369" stroke-width="0.9"/>
<path d="M436.54,161.48 436.68,161.59 437.34,164.66 437.58,165.91 438.01,168.52 438.65,171.59 438.78,172.50 439.07,175.23 439.24,176.14 439.62,177.84 439.76,178.64 439.84,179.43 439.96,181.14 440.04,181.82 440.21,182.73 440.73,184.66 440.90,185.45 441.01,186.25 441.16,187.95 441.26,188.64 441.48,189.55 442.05,191.25 442.27,192.05 442.41,192.95 442.49,194.77 442.59,195.57 442.78,196.36 443.33,198.07 443.51,198.86 443.58,199.77 443.50,201.48 443.53,202.27 443.70,203.18 444.19,204.89 444.32,205.68 444.31,206.48 444.04,208.30 444.00,209.09 444.08,209.89 444.41,211.59 444.46,212.27 444.43,212.73 444.33,213.30 443.81,215.11 443.65,215.91 443.56,216.70 443.48,218.41 443.34,219.32 443.09,220.11 442.38,221.82 442.07,222.73 441.90,223.52 441.69,225.34 441.51,226.25 441.32,226.93 440.59,229.20 440.43,229.89 440.15,231.48 439.98,232.27 439.72,233.18 438.95,235.45 438.79,236.14 438.66,236.93 438.36,239.66 437.90,243.07 437.67,246.48 437.44,249.32 437.38,250.68 437.33,253.52 437.21,256.48 437.14,259.89 437.00,263.64 437.01,266.02 437.15,266.36 437.60,267.05 437.71,267.27 437.97,267.95 438.03,268.41 437.99,268.64 437.84,268.98 437.24,269.89 436.76,270.45 436.54,270.57 436.32,270.45 435.84,269.89 435.24,268.98 435.09,268.64 435.05,268.41 435.11,267.95 435.37,267.27 435.48,267.05 435.93,266.36 436.07,266.02 436.08,263.64 435.94,259.89 435.87,256.48 435.75,253.52 435.70,250.68 435.64,249.32 435.41,246.48 435.18,243.07 434.72,239.66 434.42,236.93 434.29,236.14 434.13,235.45 433.36,233.18 433.10,232.27 432.93,231.48 432.65,229.89 432.49,229.20 431.76,226.93 431.57,226.25 431.39,225.34 431.18,223.52 431.01,222.73 430.70,221.82 429.99,220.11 429.74,219.32 429.60,218.41 429.52,216.70 429.43,215.91 429.27,215.11 428.75,213.30 428.65,212.73 428.62,212.27 428.67,211.59 429.00,209.89 429.08,209.09 429.04,208.30 428.77,206.48 428.76,205.68 428.89,204.89 429.38,203.18 429.55,202.27 429.58,201.48 429.50,199.77 429.57,198.86 429.75,198.07 430.30,196.36 430.49,195.57 430.59,194.77 430.67,192.95 430.81,192.05 431.03,191.25 431.60,189.55 431.82,188.64 431.92,187.95 432.07,186.25 432.18,185.45 432.35,184.66 432.87,182.73 433.04,181.82 433.12,181.14 433.24,179.43 433.32,178.64 433.46,177.84 433.84,176.14 434.01,175.23 434.30,172.50 434.43,171.59 435.07,168.52 435.50,165.91 435.74,164.66 436.40,161.59Z" fill="#46b1b5" stroke="#484848" stroke-width="0.5" stroke-linejoin="round"/>
<line x1="436.54" x2="436.54" y1="170.91" y2="248.18" stroke="#4a4a4a" stroke-width="0.4"/>
<line x1="436.54" x2="436.54" y1="195.00" y2="223.18" stroke="#444" stroke-width="1.1"/>
<circle cx="436.54" cy="208.41" r="0.45" fill="#fff" fill-opacity="0.85"/>
<text x="455.81" y="283.20" font-size="4.4" text-anchor="middle">B8A</text>
<line x1="455.81" x2="455.81" y1="160.91" y2="271.14" stroke="#636369" stroke-width="0.9"/>
<path d="M455.81,161.14 455.99,161.25 456.95,163.18 457.24,163.98 457.44,164.89 457.57,165.80 457.81,168.30 458.27,171.25 458.35,172.16 458.42,173.98 458.53,175.00 458.73,176.02 459.28,178.41 459.62,180.91 459.76,181.70 460.35,183.98 460.49,184.66 460.60,185.57 460.64,187.39 460.73,188.30 460.92,189.20 461.44,191.02 461.60,191.93 461.66,192.73 461.67,194.20 461.74,195.00 461.94,195.91 462.48,197.61 462.68,198.41 462.78,199.32 462.76,201.14 462.82,201.93 462.99,202.73 463.59,204.66 463.68,205.23 463.71,205.68 463.63,206.48 463.29,208.07 463.20,208.75 463.17,209.43 463.22,211.25 463.18,211.82 463.10,212.27 462.88,213.07 462.22,214.77 461.98,215.57 461.83,216.36 461.60,218.07 461.40,218.98 461.12,219.77 460.38,221.59 460.04,222.73 459.54,225.57 458.79,228.18 458.56,229.20 458.43,230.11 458.19,232.50 457.63,235.91 457.35,238.75 456.99,241.48 456.90,242.61 456.84,246.25 456.69,249.55 456.64,252.84 456.49,256.14 456.43,259.32 456.30,262.50 456.27,264.09 456.29,266.02 456.40,266.25 456.84,266.82 456.98,267.05 457.31,267.84 457.39,268.18 457.40,268.41 457.37,268.64 457.25,268.98 456.63,270.11 456.39,270.45 456.02,270.91 455.81,271.02 455.60,270.91 455.23,270.45 454.99,270.11 454.37,268.98 454.25,268.64 454.22,268.41 454.23,268.18 454.31,267.84 454.64,267.05 454.78,266.82 455.22,266.25 455.33,266.02 455.35,264.09 455.32,262.50 455.19,259.32 455.13,256.14 454.98,252.84 454.93,249.55 454.78,246.25 454.72,242.61 454.63,241.48 454.27,238.75 453.99,235.91 453.43,232.50 453.19,230.11 453.06,229.20 452.83,228.18 452.08,225.57 451.58,222.73 451.24,221.59 450.50,219.77 450.22,218.98 450.02,218.07 449.79,216.36 449.64,215.57 449.40,214.77 448.74,213.07 448.52,212.27 448.44,211.82 448.40,211.25 448.45,209.43 448.42,208.75 448.33,208.07 447.99,206.48 447.91,205.68 447.94,205.23 448.03,204.66 448.63,202.73 448.80,201.93 448.86,201.14 448.84,199.32 448.94,198.41 449.14,197.61 449.68,195.91 449.88,195.00 449.95,194.20 449.96,192.73 450.02,191.93 450.18,191.02 450.70,189.20 450.89,188.30 450.98,187.39 451.02,185.57 451.13,184.66 451.27,183.98 451.86,181.70 452.00,180.91 452.34,178.41 452.89,176.02 453.09,175.00 453.20,173.98 453.27,172.16 453.35,171.25 453.81,168.30 454.05,165.80 454.18,164.89 454.38,163.98 454.67,163.18 455.63,161.25Z" fill="#4ab0d1" stroke="#484848" stroke-width="0.5" stroke-linejoin="round"/>
<line x1="455.81" x2="455.81" y1="168.64" y2="245.91" stroke="#4a4a4a" stroke-width="0.4"/>
<line x1="455.81" x2="455.81" y1="190.00" y2="219.55" stroke="#444" stroke-width="1.1"/>
<circle cx="455.81" cy="205.00" r="0.45" fill="#fff" fill-opacity="0.85"/>
<text x="475.08" y="283.20" font-size="4.4" text-anchor="middle">B09</text>
<line x1="475.08" x2="475.08" y1="160.91" y2="271.14" stroke="#636369" stroke-width="0.9"/>
<path d="M475.08,204.55 475.22,204.66 475.29,205.91 475.44,207.50 475.92,211.36 476.16,214.32 476.35,215.45 476.56,216.02 476.92,216.70 477.61,217.84 478.53,219.20 478.91,219.89 479.67,221.59 479.98,222.39 480.37,223.75 480.55,224.55 480.63,225.11 480.66,225.80 480.56,227.84 480.58,228.75 480.69,229.55 481.08,231.36 481.18,232.27 481.18,233.07 481.07,234.66 481.11,235.57 481.25,236.36 481.71,238.07 481.88,238.98 481.93,239.77 481.87,241.59 481.95,242.50 482.17,243.30 482.67,244.55 482.86,245.11 482.98,245.68 483.01,246.14 482.98,246.48 482.90,246.93 482.52,248.41 482.39,249.09 482.33,249.89 482.39,251.36 482.37,252.05 482.24,252.84 481.98,253.64 480.94,256.02 480.44,257.05 480.00,257.84 479.43,258.75 478.62,259.89 477.42,261.36 476.91,262.05 476.63,262.50 476.22,263.30 476.06,263.64 476.00,263.86 475.98,264.09 476.01,264.32 476.22,264.77 476.45,265.11 477.28,266.14 478.04,267.39 478.21,267.84 478.24,268.07 478.21,268.30 478.03,268.64 477.72,268.98 475.08,271.14 472.44,268.98 472.13,268.64 471.95,268.30 471.92,268.07 471.95,267.84 472.12,267.39 472.88,266.14 473.71,265.11 473.94,264.77 474.15,264.32 474.18,264.09 474.16,263.86 474.10,263.64 473.94,263.30 473.53,262.50 473.25,262.05 472.74,261.36 471.54,259.89 470.73,258.75 470.16,257.84 469.72,257.05 469.22,256.02 468.18,253.64 467.92,252.84 467.79,252.05 467.77,251.36 467.83,249.89 467.77,249.09 467.64,248.41 467.26,246.93 467.18,246.48 467.15,246.14 467.18,245.68 467.30,245.11 467.49,244.55 467.99,243.30 468.21,242.50 468.29,241.59 468.23,239.77 468.28,238.98 468.45,238.07 468.91,236.36 469.05,235.57 469.09,234.66 468.98,233.07 468.98,232.27 469.08,231.36 469.47,229.55 469.58,228.75 469.60,227.84 469.50,225.80 469.53,225.11 469.61,224.55 469.79,223.75 470.18,222.39 470.49,221.59 471.25,219.89 471.63,219.20 472.55,217.84 473.24,216.70 473.60,216.02 473.81,215.45 474.00,214.32 474.24,211.36 474.72,207.50 474.87,205.91 474.94,204.66Z" fill="#87aced" stroke="#484848" stroke-width="0.5" stroke-linejoin="round"/>
<line x1="475.08" x2="475.08" y1="214.09" y2="262.27" stroke="#4a4a4a" stroke-width="0.4"/>
<line x1="475.08" x2="475.08" y1="224.55" y2="252.50" stroke="#444" stroke-width="1.1"/>
<circle cx="475.08" cy="239.32" r="0.45" fill="#fff" fill-opacity="0.85"/>
<text x="494.35" y="283.20" font-size="4.4" text-anchor="middle">B10</text>
<line x1="494.35" x2="494.35" y1="223.86" y2="269.09" stroke="#636369" stroke-width="0.9"/>
<path d="M494.35,243.07 494.49,243.18 494.57,244.66 494.70,246.25 495.22,251.14 496.13,257.27 496.41,258.86 496.72,260.11 497.11,261.14 497.87,262.73 498.51,263.64 498.66,263.98 498.67,264.09 498.64,264.20 498.55,264.32 497.65,265.00 497.56,265.11 497.53,265.23 497.56,265.34 497.62,265.45 497.87,265.68 498.47,266.02 500.26,266.82 501.71,267.27 501.98,267.39 502.08,267.50 502.08,268.86 499.32,268.98 494.35,269.09 489.38,268.98 486.62,268.86 486.62,267.50 486.72,267.39 486.99,267.27 488.44,266.82 490.23,266.02 490.83,265.68 491.08,265.45 491.14,265.34 491.17,265.23 491.14,265.11 491.05,265.00 490.15,264.32 490.06,264.20 490.03,264.09 490.04,263.98 490.19,263.64 490.83,262.73 491.59,261.14 491.98,260.11 492.29,258.86 492.57,257.27 493.48,251.14 494.00,246.25 494.13,244.66 494.21,243.18Z" fill="#bf9fef" stroke="#484848" stroke-width="0.5" stroke-linejoin="round"/>
<line x1="494.35" x2="494.35" y1="250.45" y2="268.64" stroke="#4a4a4a" stroke-width="0.4"/>
<line x1="494.35" x2="494.35" y1="258.18" y2="267.73" stroke="#444" stroke-width="1.1"/>
<circle cx="494.35" cy="264.55" r="0.45" fill="#fff" fill-opacity="0.85"/>
<text x="513.62" y="283.20" font-size="4.4" text-anchor="middle">B11</text>
<line x1="513.62" x2="513.62" y1="160.91" y2="271.14" stroke="#636369" stroke-width="0.9"/>
<path d="M513.62,161.25 513.77,161.36 514.03,162.16 514.37,163.30 514.57,164.20 514.70,165.11 515.06,169.09 515.12,170.45 515.12,173.41 515.26,176.59 515.22,179.43 515.24,180.45 515.46,183.64 515.54,186.70 515.88,190.00 515.97,192.84 516.09,194.09 516.33,195.23 516.82,197.05 517.14,198.41 517.33,198.98 517.67,199.77 518.38,201.14 519.72,203.41 520.04,204.09 520.29,204.77 520.53,205.68 520.82,207.50 521.47,209.66 521.54,210.11 521.58,210.68 521.50,211.59 521.15,213.18 521.06,213.86 521.06,214.77 521.33,216.59 521.37,217.50 521.25,218.41 520.80,220.11 520.65,220.91 520.60,221.70 520.65,223.41 520.60,224.20 520.40,225.11 519.89,226.70 519.69,227.50 519.56,228.41 519.48,230.11 519.39,230.91 519.17,231.82 518.60,233.52 518.37,234.43 518.24,235.23 518.12,237.05 518.03,237.84 517.84,238.75 517.35,240.57 517.20,241.36 517.10,242.16 516.91,244.66 516.79,245.45 516.44,247.27 516.31,248.18 516.24,248.98 516.16,250.80 516.07,251.70 515.56,254.89 515.23,258.07 514.66,262.16 514.55,263.86 514.55,264.55 514.61,265.23 514.80,266.48 514.88,266.70 515.34,267.61 515.39,267.84 515.37,268.18 515.30,268.52 515.14,268.98 514.57,270.11 514.31,270.45 513.99,270.80 513.87,270.91 513.62,271.02 513.37,270.91 513.25,270.80 512.93,270.45 512.67,270.11 512.10,268.98 511.94,268.52 511.87,268.18 511.85,267.84 511.90,267.61 512.36,266.70 512.44,266.48 512.63,265.23 512.69,264.55 512.69,263.86 512.58,262.16 512.01,258.07 511.68,254.89 511.17,251.70 511.08,250.80 511.00,248.98 510.93,248.18 510.80,247.27 510.45,245.45 510.33,244.66 510.14,242.16 510.04,241.36 509.89,240.57 509.40,238.75 509.21,237.84 509.12,237.05 509.00,235.23 508.87,234.43 508.64,233.52 508.07,231.82 507.85,230.91 507.76,230.11 507.68,228.41 507.55,227.50 507.35,226.70 506.84,225.11 506.64,224.20 506.59,223.41 506.64,221.70 506.59,220.91 506.44,220.11 505.99,218.41 505.87,217.50 505.91,216.59 506.18,214.77 506.18,213.86 506.09,213.18 505.74,211.59 505.66,210.68 505.70,210.11 505.77,209.66 506.42,207.50 506.71,205.68 506.95,204.77 507.20,204.09 507.52,203.41 508.86,201.14 509.57,199.77 509.91,198.98 510.10,198.41 510.42,197.05 510.91,195.23 511.15,194.09 511.27,192.84 511.36,190.00 511.70,186.70 511.78,183.64 512.00,180.45 512.02,179.43 511.98,176.59 512.12,173.41 512.12,170.45 512.18,169.09 512.54,165.11 512.67,164.20 512.87,163.30 513.21,162.16 513.47,161.36Z" fill="#ec83ec" stroke="#484848" stroke-width="0.5" stroke-linejoin="round"/>
<line x1="513.62" x2="513.62" y1="170.91" y2="259.55" stroke="#4a4a4a" stroke-width="0.4"/>
<line x1="513.62" x2="513.62" y1="203.64" y2="236.14" stroke="#444" stroke-width="1.1"/>
<circle cx="513.62" cy="217.50" r="0.45" fill="#fff" fill-opacity="0.85"/>
<text x="532.89" y="283.20" font-size="4.4" text-anchor="middle">B12</text>
<line x1="532.89" x2="532.89" y1="160.91" y2="271.36" stroke="#636369" stroke-width="0.9"/>
<path d="M532.89,161.36 533.03,161.48 533.19,162.16 533.48,163.52 533.69,164.77 534.23,168.98 534.49,172.50 534.85,175.45 534.88,176.59 534.78,178.86 534.76,179.77 534.90,183.18 534.94,186.25 535.21,189.77 535.21,192.39 535.24,193.30 535.33,194.20 535.66,196.70 535.78,199.32 535.87,200.23 536.06,201.25 536.81,204.43 537.11,205.57 537.40,206.48 537.61,207.05 537.82,207.50 538.99,209.55 539.21,210.00 539.37,210.45 539.53,211.25 539.68,212.95 539.78,213.64 539.99,214.43 540.56,216.25 540.69,216.93 540.73,217.50 540.68,218.30 540.43,219.77 540.35,220.57 540.35,221.25 540.43,222.84 540.39,223.64 540.20,224.55 539.62,226.36 539.46,227.27 539.44,228.07 539.58,229.77 539.57,230.68 539.47,231.48 539.10,233.07 538.97,233.86 538.94,234.77 539.08,236.59 539.07,237.39 538.95,238.30 538.55,240.11 538.45,241.02 538.49,242.05 538.76,243.86 538.84,244.66 538.86,245.34 538.84,246.82 538.88,247.50 538.99,248.30 539.36,250.11 539.40,250.68 539.36,251.25 539.28,251.70 539.15,252.16 538.55,253.75 538.33,254.43 538.18,255.11 537.92,256.59 537.61,257.61 537.13,258.64 534.85,262.73 534.44,263.64 534.34,263.98 534.29,264.32 534.18,265.57 534.16,266.25 534.23,266.59 534.54,267.39 534.64,267.73 534.65,268.07 534.61,268.41 534.37,269.20 533.91,270.23 533.66,270.57 533.24,271.02 533.13,271.14 532.89,271.25 532.65,271.14 532.54,271.02 532.12,270.57 531.87,270.23 531.41,269.20 531.17,268.41 531.13,268.07 531.14,267.73 531.24,267.39 531.55,266.59 531.62,266.25 531.60,265.57 531.49,264.32 531.44,263.98 531.34,263.64 530.93,262.73 528.65,258.64 528.17,257.61 527.86,256.59 527.60,255.11 527.45,254.43 527.23,253.75 526.63,252.16 526.50,251.70 526.42,251.25 526.38,250.68 526.42,250.11 526.79,248.30 526.90,247.50 526.94,246.82 526.92,245.34 526.94,244.66 527.02,243.86 527.29,242.05 527.33,241.02 527.23,240.11 526.83,238.30 526.71,237.39 526.70,236.59 526.84,234.77 526.81,233.86 526.68,233.07 526.31,231.48 526.21,230.68 526.20,229.77 526.34,228.07 526.32,227.27 526.16,226.36 525.58,224.55 525.39,223.64 525.35,222.84 525.43,221.25 525.43,220.57 525.35,219.77 525.10,218.30 525.05,217.50 525.09,216.93 525.22,216.25 525.79,214.43 526.00,213.64 526.10,212.95 526.25,211.25 526.41,210.45 526.57,210.00 526.79,209.55 527.96,207.50 528.17,207.05 528.38,206.48 528.67,205.57 528.97,204.43 529.72,201.25 529.91,200.23 530.00,199.32 530.12,196.70 530.45,194.20 530.54,193.30 530.57,192.39 530.57,189.77 530.84,186.25 530.88,183.18 531.02,179.77 531.00,178.86 530.90,176.59 530.93,175.45 531.29,172.50 531.55,168.98 532.09,164.77 532.30,163.52 532.59,162.16 532.75,161.48Z" fill="#ee8bc4" stroke="#484848" stroke-width="0.5" stroke-linejoin="round"/>
<line x1="532.89" x2="532.89" y1="175.45" y2="262.95" stroke="#4a4a4a" stroke-width="0.4"/>
<line x1="532.89" x2="532.89" y1="210.68" y2="246.36" stroke="#444" stroke-width="1.1"/>
<circle cx="532.89" cy="226.82" r="0.45" fill="#fff" fill-opacity="0.85"/>
</g>
<g>
<rect x="23.90" y="295.40" width="249.55" height="120.90" fill="#eaeaf2"/>
<line x1="23.90" x2="273.45" y1="409.55" y2="409.55" stroke="#fff" stroke-width="0.32"/>
<text x="20.60" y="410.70" font-size="3.6" text-anchor="end">0.0</text>
<line x1="23.90" x2="273.45" y1="382.88" y2="382.88" stroke="#fff" stroke-width="0.32"/>
<text x="20.60" y="384.02" font-size="3.6" text-anchor="end">0.5</text>
<line x1="23.90" x2="273.45" y1="356.20" y2="356.20" stroke="#fff" stroke-width="0.32"/>
<text x="20.60" y="357.35" font-size="3.6" text-anchor="end">1.0</text>
<line x1="23.90" x2="273.45" y1="329.53" y2="329.53" stroke="#fff" stroke-width="0.32"/>
<text x="20.60" y="330.68" font-size="3.6" text-anchor="end">1.5</text>
<line x1="23.90" x2="273.45" y1="302.85" y2="302.85" stroke="#fff" stroke-width="0.32"/>
<text x="20.60" y="304.00" font-size="3.6" text-anchor="end">2.0</text>
<text x="148.28" y="293.00" font-size="6.6" text-anchor="middle">Class - Cloud</text>
<text transform="translate(11.70,358.30) rotate(-90)" font-size="4.2" text-anchor="middle">Surface Reflectance (ρ)</text>
<text x="32.85" y="423.20" font-size="4.4" text-anchor="middle">B01</text>
<line x1="32.85" x2="32.85" y1="330.00" y2="410.91" stroke="#636369" stroke-width="0.9"/>
<path d="M32.85,350.11 32.99,350.23 33.11,351.02 33.30,351.82 34.41,355.45 35.55,358.64 36.56,361.25 36.95,362.39 37.66,364.77 37.80,365.45 37.85,366.02 37.85,369.20 37.79,370.34 37.66,371.48 37.18,374.66 36.44,381.70 36.11,383.98 34.62,392.39 34.40,393.86 34.33,395.11 34.34,399.20 34.45,399.43 34.79,399.77 35.44,400.23 36.02,400.57 36.64,400.80 38.92,401.48 40.34,402.05 40.51,402.16 40.58,402.27 40.49,402.73 40.27,403.18 40.12,403.41 39.99,403.52 39.77,403.64 39.11,403.86 36.12,404.66 34.07,405.45 33.68,405.68 33.57,405.80 33.53,405.91 33.54,406.25 33.65,407.27 33.75,407.50 34.17,407.95 34.33,408.18 34.52,408.64 34.55,408.98 34.48,409.20 34.37,409.43 33.89,410.11 33.52,410.45 32.85,410.91 32.18,410.45 31.81,410.11 31.33,409.43 31.22,409.20 31.15,408.98 31.18,408.64 31.37,408.18 31.53,407.95 31.95,407.50 32.05,407.27 32.16,406.25 32.17,405.91 32.13,405.80 32.02,405.68 31.63,405.45 29.58,404.66 26.59,403.86 25.93,403.64 25.71,403.52 25.58,403.41 25.43,403.18 25.21,402.73 25.12,402.27 25.19,402.16 25.36,402.05 26.78,401.48 29.06,400.80 29.68,400.57 30.26,400.23 30.91,399.77 31.25,399.43 31.36,399.20 31.37,395.11 31.30,393.86 31.08,392.39 29.59,383.98 29.26,381.70 28.52,374.66 28.04,371.48 27.91,370.34 27.85,369.20 27.85,366.02 27.90,365.45 28.04,364.77 28.75,362.39 29.14,361.25 30.15,358.64 31.29,355.45 32.40,351.82 32.59,351.02 32.71,350.23Z" fill="#ef909f" stroke="#484848" stroke-width="0.5" stroke-linejoin="round"/>
<line x1="32.85" x2="32.85" y1="354.09" y2="399.55" stroke="#4a4a4a" stroke-width="0.4"/>
<line x1="32.85" x2="32.85" y1="367.50" y2="396.82" stroke="#444" stroke-width="1.1"/>
<circle cx="32.85" cy="380.68" r="0.45" fill="#fff" fill-opacity="0.85"/>
<text x="52.12" y="423.20" font-size="4.4" text-anchor="middle">B02</text>
<line x1="52.12" x2="52.12" y1="319.77" y2="410.91" stroke="#636369" stroke-width="0.9"/>
<path d="M52.12,347.16 52.26,347.27 52.34,347.84 52.47,348.41 53.20,350.91 53.93,354.43 54.26,355.80 54.60,356.93 55.54,359.66 56.51,362.95 57.08,364.66 57.26,365.34 57.35,366.02 57.35,369.20 57.30,370.23 57.19,371.36 56.79,374.66 56.39,380.23 56.21,382.27 55.97,384.20 55.61,386.48 54.99,390.00 54.38,392.95 54.15,394.32 54.05,395.23 53.89,397.50 53.83,398.98 53.84,399.89 53.98,400.23 54.28,400.57 54.83,401.02 55.50,401.48 56.06,401.70 58.20,402.39 59.36,402.84 59.78,403.07 59.85,403.18 59.79,403.41 59.52,403.75 59.12,404.09 58.64,404.43 57.79,404.77 55.53,405.45 54.88,405.68 54.39,405.91 53.82,406.25 53.48,406.48 53.21,406.70 53.05,406.93 53.04,407.16 53.13,407.39 53.49,407.95 53.60,408.18 53.80,408.86 53.81,409.20 53.64,409.55 53.15,410.11 52.77,410.45 52.12,410.91 51.47,410.45 51.09,410.11 50.60,409.55 50.43,409.20 50.44,408.86 50.64,408.18 50.75,407.95 51.11,407.39 51.20,407.16 51.19,406.93 51.03,406.70 50.76,406.48 50.42,406.25 49.85,405.91 49.36,405.68 48.71,405.45 46.45,404.77 45.60,404.43 45.12,404.09 44.72,403.75 44.45,403.41 44.39,403.18 44.46,403.07 44.88,402.84 46.04,402.39 48.18,401.70 48.74,401.48 49.41,401.02 49.96,400.57 50.26,400.23 50.40,399.89 50.41,398.98 50.35,397.50 50.19,395.23 50.09,394.32 49.86,392.95 49.25,390.00 48.63,386.48 48.27,384.20 48.03,382.27 47.85,380.23 47.45,374.66 47.05,371.36 46.94,370.23 46.89,369.20 46.89,366.02 46.98,365.34 47.16,364.66 47.73,362.95 48.70,359.66 49.64,356.93 49.98,355.80 50.31,354.43 51.04,350.91 51.77,348.41 51.90,347.84 51.98,347.27Z" fill="#eb9158" stroke="#484848" stroke-width="0.5" stroke-linejoin="round"/>
<line x1="52.12" x2="52.12" y1="351.82" y2="400.00" stroke="#4a4a4a" stroke-width="0.4"/>
<line x1="52.12" x2="52.12" y1="366.82" y2="393.18" stroke="#444" stroke-width="1.1"/>
<circle cx="52.12" cy="377.73" r="0.45" fill="#fff" fill-opacity="0.85"/>
<text x="71.39" y="423.20" font-size="4.4" text-anchor="middle">B03</text>
<line x1="71.39" x2="71.39" y1="319.77" y2="410.91" stroke="#636369" stroke-width="0.9"/>
<path d="M71.39,348.52 71.53,348.64 71.61,349.20 71.73,349.77 72.47,352.27 73.19,355.34 73.59,356.82 74.00,357.95 75.00,360.11 75.41,361.14 76.06,363.18 76.32,364.09 76.52,365.00 76.61,365.91 76.59,366.82 76.39,369.09 75.84,377.95 75.48,382.27 75.24,384.20 74.88,386.48 74.26,390.00 73.65,392.95 73.42,394.32 73.32,395.23 73.17,397.50 73.11,398.98 73.10,400.11 73.20,400.45 73.51,400.91 73.98,401.36 74.57,401.82 74.80,401.93 75.14,402.05 77.00,402.50 77.75,402.73 78.89,403.18 79.06,403.30 79.12,403.41 79.06,403.64 78.80,403.98 78.39,404.32 77.57,404.89 76.74,405.23 75.00,405.80 74.08,406.14 73.66,406.36 73.03,406.82 72.77,407.05 72.59,407.27 72.53,407.50 72.55,407.73 72.73,408.30 72.83,408.86 72.87,409.32 72.82,409.55 72.59,409.89 72.19,410.34 71.91,410.57 71.39,410.91 70.87,410.57 70.59,410.34 70.19,409.89 69.96,409.55 69.91,409.32 69.95,408.86 70.05,408.30 70.23,407.73 70.25,407.50 70.19,407.27 70.01,407.05 69.75,406.82 69.12,406.36 68.70,406.14 67.78,405.80 66.04,405.23 65.21,404.89 64.39,404.32 63.98,403.98 63.72,403.64 63.66,403.41 63.72,403.30 63.89,403.18 65.03,402.73 65.78,402.50 67.64,402.05 67.98,401.93 68.21,401.82 68.80,401.36 69.27,400.91 69.58,400.45 69.68,400.11 69.67,398.98 69.61,397.50 69.46,395.23 69.36,394.32 69.13,392.95 68.52,390.00 67.90,386.48 67.54,384.20 67.30,382.27 66.94,377.95 66.39,369.09 66.19,366.82 66.17,365.91 66.26,365.00 66.46,364.09 66.72,363.18 67.37,361.14 67.78,360.11 68.78,357.95 69.19,356.82 69.59,355.34 70.31,352.27 71.05,349.77 71.17,349.20 71.25,348.64Z" fill="#c59e42" stroke="#484848" stroke-width="0.5" stroke-linejoin="round"/>
<line x1="71.39" x2="71.39" y1="351.82" y2="400.68" stroke="#4a4a4a" stroke-width="0.4"/>
<line x1="71.39" x2="71.39" y1="367.50" y2="394.55" stroke="#444" stroke-width="1.1"/>
<circle cx="71.39" cy="378.41" r="0.45" fill="#fff" fill-opacity="0.85"/>
<text x="90.66" y="423.20" font-size="4.4" text-anchor="middle">B04</text>
<line x1="90.66" x2="90.66" y1="302.27" y2="411.36" stroke="#636369" stroke-width="0.9"/>
<path d="M90.66,341.48 90.80,341.59 90.90,342.50 91.09,343.64 92.05,347.95 92.49,349.66 92.97,351.25 93.26,352.05 93.68,353.07 96.36,358.98 97.36,361.36 97.76,362.50 98.02,363.52 98.13,364.09 98.16,364.66 98.06,365.11 97.87,365.57 97.23,366.82 97.10,367.16 97.02,367.50 96.85,369.43 96.65,373.52 96.51,375.45 96.19,378.30 95.63,382.50 95.06,386.36 94.50,389.66 94.26,390.68 93.58,393.07 93.43,393.75 93.32,394.43 93.27,395.11 93.27,399.09 93.30,399.32 93.39,399.55 93.71,400.00 94.16,400.45 95.32,401.48 96.00,402.16 97.36,403.30 97.84,403.75 98.13,404.09 98.27,404.32 98.36,404.55 98.39,404.77 98.35,405.00 98.23,405.23 98.05,405.45 97.68,405.80 95.95,407.05 94.81,407.95 92.84,409.43 91.88,410.23 90.89,411.14 90.66,411.25 90.43,411.14 89.44,410.23 88.48,409.43 86.51,407.95 85.37,407.05 83.64,405.80 83.27,405.45 83.09,405.23 82.97,405.00 82.93,404.77 82.96,404.55 83.05,404.32 83.19,404.09 83.48,403.75 83.96,403.30 85.32,402.16 86.00,401.48 87.16,400.45 87.61,400.00 87.93,399.55 88.02,399.32 88.05,399.09 88.05,395.11 88.00,394.43 87.89,393.75 87.74,393.07 87.06,390.68 86.82,389.66 86.26,386.36 85.69,382.50 85.13,378.30 84.81,375.45 84.67,373.52 84.47,369.43 84.30,367.50 84.22,367.16 84.09,366.82 83.45,365.57 83.26,365.11 83.16,364.66 83.19,364.09 83.30,363.52 83.56,362.50 83.96,361.36 84.96,358.98 87.64,353.07 88.06,352.05 88.35,351.25 88.83,349.66 89.27,347.95 90.23,343.64 90.42,342.50 90.52,341.59Z" fill="#a5a63f" stroke="#484848" stroke-width="0.5" stroke-linejoin="round"/>
<line x1="90.66" x2="90.66" y1="342.73" y2="401.82" stroke="#4a4a4a" stroke-width="0.4"/>
<line x1="90.66" x2="90.66" y1="365.45" y2="393.18" stroke="#444" stroke-width="1.1"/>
<circle cx="90.66" cy="377.05" r="0.45" fill="#fff" fill-opacity="0.85"/>
<text x="109.93" y="423.20" font-size="4.4" text-anchor="middle">B05</text>
<line x1="109.93" x2="109.93" y1="300.91" y2="411.14" stroke="#636369" stroke-width="0.9"/>
<path d="M109.93,338.64 110.07,338.75 110.16,339.66 110.29,340.68 111.18,345.91 111.64,348.30 112.12,350.34 112.73,352.39 113.83,355.57 115.06,358.75 115.46,359.89 116.62,363.75 116.74,364.43 116.73,365.11 116.64,365.91 116.19,368.30 116.07,369.09 115.60,373.86 115.36,375.80 115.07,377.61 114.27,382.16 112.65,392.39 112.54,393.75 112.56,394.43 112.63,395.23 112.88,396.82 112.99,397.16 113.15,397.50 113.71,398.30 114.67,399.43 115.29,400.23 116.46,401.59 116.88,402.16 117.15,402.61 117.51,403.41 117.61,403.75 117.66,404.09 117.63,404.20 117.41,404.43 116.48,405.00 116.18,405.23 116.10,405.34 116.07,405.45 116.08,405.57 116.20,405.80 116.98,406.59 117.14,406.82 117.20,407.05 117.17,407.27 117.03,407.61 116.79,407.95 116.46,408.30 115.92,408.75 115.16,409.32 114.78,409.55 114.30,409.77 112.73,410.34 109.93,411.14 107.13,410.34 105.56,409.77 105.08,409.55 104.70,409.32 103.94,408.75 103.40,408.30 103.07,407.95 102.83,407.61 102.69,407.27 102.66,407.05 102.72,406.82 102.88,406.59 103.66,405.80 103.78,405.57 103.79,405.45 103.76,405.34 103.68,405.23 103.38,405.00 102.45,404.43 102.23,404.20 102.20,404.09 102.25,403.75 102.35,403.41 102.71,402.61 102.98,402.16 103.40,401.59 104.57,400.23 105.19,399.43 106.15,398.30 106.71,397.50 106.87,397.16 106.98,396.82 107.23,395.23 107.30,394.43 107.32,393.75 107.21,392.39 105.59,382.16 104.79,377.61 104.50,375.80 104.26,373.86 103.79,369.09 103.67,368.30 103.22,365.91 103.13,365.11 103.12,364.43 103.24,363.75 104.40,359.89 104.80,358.75 106.03,355.57 107.13,352.39 107.74,350.34 108.22,348.30 108.68,345.91 109.57,340.68 109.70,339.66 109.79,338.75Z" fill="#7ab140" stroke="#484848" stroke-width="0.5" stroke-linejoin="round"/>
<line x1="109.93" x2="109.93" y1="340.45" y2="401.82" stroke="#4a4a4a" stroke-width="0.4"/>
<line x1="109.93" x2="109.93" y1="364.55" y2="395.23" stroke="#444" stroke-width="1.1"/>
<circle cx="109.93" cy="377.73" r="0.45" fill="#fff" fill-opacity="0.85"/>
<text x="129.20" y="423.20" font-size="4.4" text-anchor="middle">B06</text>
<line x1="129.20" x2="129.20" y1="300.91" y2="411.14" stroke="#636369" stroke-width="0.9"/>
<path d="M129.20,337.16 129.34,337.27 129.42,338.18 129.56,339.20 130.71,345.80 131.13,347.73 131.51,349.09 131.82,350.00 132.26,351.14 133.67,354.43 135.15,357.50 135.72,358.75 136.64,360.57 136.86,361.25 136.93,361.82 136.87,364.77 136.72,367.73 136.41,370.68 135.93,374.32 135.59,376.36 135.22,378.30 134.92,379.55 134.10,382.61 133.10,386.70 132.86,387.95 132.74,388.98 132.72,393.18 132.75,393.41 132.87,393.75 133.06,394.09 134.02,395.34 134.35,395.91 134.54,396.59 134.70,397.39 134.76,397.95 134.75,398.41 134.61,398.86 134.37,399.32 133.21,400.91 131.59,403.41 131.35,403.86 130.84,405.00 130.49,405.91 130.35,406.59 130.34,406.82 130.38,407.05 130.55,407.39 131.18,408.18 131.39,408.52 131.47,408.86 131.39,409.20 131.09,409.66 130.45,410.34 129.98,410.68 129.20,411.14 128.42,410.68 127.95,410.34 127.31,409.66 127.01,409.20 126.93,408.86 127.01,408.52 127.22,408.18 127.85,407.39 128.02,407.05 128.06,406.82 128.05,406.59 127.91,405.91 127.56,405.00 127.05,403.86 126.81,403.41 125.19,400.91 124.03,399.32 123.79,398.86 123.65,398.41 123.64,397.95 123.70,397.39 123.86,396.59 124.05,395.91 124.38,395.34 125.34,394.09 125.53,393.75 125.65,393.41 125.68,393.18 125.66,388.98 125.54,387.95 125.30,386.70 124.30,382.61 123.48,379.55 123.18,378.30 122.81,376.36 122.47,374.32 121.99,370.68 121.68,367.73 121.53,364.77 121.47,361.82 121.54,361.25 121.76,360.57 122.68,358.75 123.25,357.50 124.73,354.43 126.14,351.14 126.58,350.00 126.89,349.09 127.27,347.73 127.69,345.80 128.84,339.20 128.98,338.18 129.06,337.27Z" fill="#42b579" stroke="#484848" stroke-width="0.5" stroke-linejoin="round"/>
<line x1="129.20" x2="129.20" y1="333.64" y2="401.82" stroke="#4a4a4a" stroke-width="0.4"/>
<line x1="129.20" x2="129.20" y1="363.86" y2="392.50" stroke="#444" stroke-width="1.1"/>
<circle cx="129.20" cy="374.77" r="0.45" fill="#fff" fill-opacity="0.85"/>
<text x="148.47" y="423.20" font-size="4.4" text-anchor="middle">B07</text>
<line x1="148.47" x2="148.47" y1="300.91" y2="411.14" stroke="#636369" stroke-width="0.9"/>
<path d="M148.47,332.61 148.61,332.73 148.75,334.09 149.35,337.73 149.86,341.82 150.14,343.64 150.51,345.57 150.98,347.50 151.47,349.20 151.89,350.45 152.31,351.48 153.42,353.98 154.48,356.59 155.26,358.64 155.92,360.11 156.13,360.80 156.20,361.36 156.13,364.77 156.07,366.36 156.00,367.16 155.81,368.52 155.19,371.93 154.42,377.50 153.95,380.00 153.10,383.75 152.85,384.66 151.98,387.39 151.80,388.18 151.68,388.98 151.65,389.55 151.66,393.30 151.72,393.64 151.85,393.98 152.53,395.23 152.75,395.80 152.78,396.02 152.78,396.48 152.67,397.50 152.54,398.30 152.36,398.86 152.02,399.55 151.19,400.91 150.84,401.59 149.92,403.86 149.72,404.55 149.62,405.11 149.61,405.57 149.72,406.02 149.99,406.59 150.63,407.61 150.88,408.07 151.04,408.52 151.08,408.75 151.07,408.98 150.99,409.20 150.76,409.55 149.93,410.34 149.39,410.68 148.47,411.14 147.55,410.68 147.01,410.34 146.18,409.55 145.95,409.20 145.87,408.98 145.86,408.75 145.90,408.52 146.06,408.07 146.31,407.61 146.95,406.59 147.22,406.02 147.33,405.57 147.32,405.11 147.22,404.55 147.02,403.86 146.10,401.59 145.75,400.91 144.92,399.55 144.58,398.86 144.40,398.30 144.27,397.50 144.16,396.48 144.16,396.02 144.19,395.80 144.41,395.23 145.09,393.98 145.22,393.64 145.28,393.30 145.29,389.55 145.26,388.98 145.14,388.18 144.96,387.39 144.09,384.66 143.84,383.75 142.99,380.00 142.52,377.50 141.75,371.93 141.13,368.52 140.94,367.16 140.87,366.36 140.81,364.77 140.74,361.36 140.81,360.80 141.02,360.11 141.68,358.64 142.46,356.59 143.52,353.98 144.63,351.48 145.05,350.45 145.47,349.20 145.96,347.50 146.43,345.57 146.80,343.64 147.08,341.82 147.59,337.73 148.19,334.09 148.33,332.73Z" fill="#44b39e" stroke="#484848" stroke-width="0.5" stroke-linejoin="round"/>
<line x1="148.47" x2="148.47" y1="333.64" y2="401.82" stroke="#4a4a4a" stroke-width="0.4"/>
<line x1="148.47" x2="148.47" y1="361.82" y2="390.91" stroke="#444" stroke-width="1.1"/>
<circle cx="148.47" cy="374.77" r="0.45" fill="#fff" fill-opacity="0.85"/>
<text x="167.74" y="423.20" font-size="4.4" text-anchor="middle">B08</text>
<line x1="167.74" x2="167.74" y1="300.91" y2="411.14" stroke="#636369" stroke-width="0.9"/>
<path d="M167.74,335.57 167.88,335.68 168.05,337.27 168.63,340.80 169.24,345.57 169.49,347.05 169.76,348.18 170.13,349.43 170.73,351.25 171.50,353.30 172.69,356.14 174.55,360.23 175.04,361.25 175.23,361.70 175.32,362.05 175.36,362.39 175.44,363.41 175.47,364.32 175.44,365.00 175.34,366.25 175.18,367.73 174.91,369.43 174.30,372.84 173.78,375.45 172.01,383.86 171.29,386.82 171.03,388.18 170.93,389.09 170.93,390.00 170.99,390.80 171.21,392.84 171.26,393.86 171.20,395.00 171.00,396.36 170.88,397.05 170.69,397.73 169.79,400.00 169.53,400.80 169.05,402.95 168.83,404.32 168.76,405.45 168.84,405.91 169.11,406.48 169.87,407.61 170.13,408.07 170.31,408.52 170.35,408.75 170.34,408.98 170.26,409.20 170.03,409.55 169.20,410.34 168.66,410.68 167.74,411.14 166.82,410.68 166.28,410.34 165.45,409.55 165.22,409.20 165.14,408.98 165.13,408.75 165.17,408.52 165.35,408.07 165.61,407.61 166.37,406.48 166.64,405.91 166.72,405.45 166.65,404.32 166.43,402.95 165.95,400.80 165.69,400.00 164.79,397.73 164.60,397.05 164.48,396.36 164.28,395.00 164.22,393.86 164.27,392.84 164.49,390.80 164.55,390.00 164.55,389.09 164.45,388.18 164.19,386.82 163.47,383.86 161.70,375.45 161.18,372.84 160.57,369.43 160.30,367.73 160.14,366.25 160.04,365.00 160.01,364.32 160.04,363.41 160.12,362.39 160.16,362.05 160.25,361.70 160.44,361.25 160.93,360.23 162.79,356.14 163.98,353.30 164.75,351.25 165.35,349.43 165.72,348.18 165.99,347.05 166.24,345.57 166.85,340.80 167.43,337.27 167.60,335.68Z" fill="#46b1b5" stroke="#484848" stroke-width="0.5" stroke-linejoin="round"/>
<line x1="167.74" x2="167.74" y1="335.91" y2="401.82" stroke="#4a4a4a" stroke-width="0.4"/>
<line x1="167.74" x2="167.74" y1="363.18" y2="389.55" stroke="#444" stroke-width="1.1"/>
<circle cx="167.74" cy="373.41" r="0.45" fill="#fff" fill-opacity="0.85"/>
<text x="187.01" y="423.20" font-size="4.4" text-anchor="middle">B8A</text>
<line x1="187.01" x2="187.01" y1="300.91" y2="411.36" stroke="#636369" stroke-width="0.9"/>
<path d="M187.01,334.20 187.15,334.32 187.23,335.23 187.37,336.25 188.47,342.50 188.85,344.20 189.23,345.57 189.57,346.48 189.97,347.39 190.54,348.52 191.17,349.66 191.65,350.34 193.07,352.05 193.37,352.50 193.55,352.84 194.12,354.32 194.48,355.45 194.67,356.36 194.74,357.27 194.66,361.02 194.60,362.16 194.52,362.95 194.36,363.98 193.90,366.36 193.73,367.39 193.51,369.20 193.07,373.52 192.79,375.68 191.58,382.84 191.14,385.23 190.94,386.70 190.88,387.50 190.88,388.18 191.09,391.93 191.10,392.61 191.05,393.18 190.94,393.75 190.79,394.32 190.10,396.36 188.90,400.34 188.36,402.84 188.18,404.09 188.15,404.89 188.21,405.11 188.32,405.34 188.77,405.91 189.81,406.93 190.20,407.39 190.47,407.84 190.52,408.07 190.53,408.30 190.43,408.64 190.16,409.09 189.76,409.55 189.06,410.23 188.77,410.45 188.40,410.68 187.01,411.36 185.62,410.68 185.25,410.45 184.96,410.23 184.26,409.55 183.86,409.09 183.59,408.64 183.49,408.30 183.50,408.07 183.55,407.84 183.82,407.39 184.21,406.93 185.25,405.91 185.70,405.34 185.81,405.11 185.87,404.89 185.84,404.09 185.66,402.84 185.12,400.34 183.92,396.36 183.23,394.32 183.08,393.75 182.97,393.18 182.92,392.61 182.93,391.93 183.14,388.18 183.14,387.50 183.08,386.70 182.88,385.23 182.44,382.84 181.23,375.68 180.95,373.52 180.51,369.20 180.29,367.39 180.12,366.36 179.66,363.98 179.50,362.95 179.42,362.16 179.36,361.02 179.28,357.27 179.35,356.36 179.54,355.45 179.90,354.32 180.47,352.84 180.65,352.50 180.95,352.05 182.37,350.34 182.85,349.66 183.48,348.52 184.05,347.39 184.45,346.48 184.79,345.57 185.17,344.20 185.55,342.50 186.65,336.25 186.79,335.23 186.87,334.32Z" fill="#4ab0d1" stroke="#484848" stroke-width="0.5" stroke-linejoin="round"/>
<line x1="187.01" x2="187.01" y1="333.64" y2="400.68" stroke="#4a4a4a" stroke-width="0.4"/>
<line x1="187.01" x2="187.01" y1="360.91" y2="387.95" stroke="#444" stroke-width="1.1"/>
<circle cx="187.01" cy="372.05" r="0.45" fill="#fff" fill-opacity="0.85"/>
<text x="206.28" y="423.20" font-size="4.4" text-anchor="middle">B09</text>
<line x1="206.28" x2="206.28" y1="327.73" y2="410.00" stroke="#636369" stroke-width="0.9"/>
<path d="M206.28,365.00 206.43,365.11 206.53,365.80 206.68,366.48 207.36,368.86 208.14,372.05 208.59,373.52 209.08,374.66 210.35,377.16 211.39,379.55 211.84,380.68 212.11,381.70 212.18,382.16 212.27,383.52 212.40,386.36 212.42,395.45 212.50,397.27 212.70,399.09 213.03,401.36 213.22,402.05 213.84,403.75 213.97,404.32 214.01,404.77 213.98,405.11 213.89,405.45 213.59,406.14 212.98,407.05 212.59,407.39 211.97,407.73 211.20,408.07 208.12,409.32 206.28,410.00 204.44,409.32 201.36,408.07 200.59,407.73 199.97,407.39 199.58,407.05 198.97,406.14 198.67,405.45 198.58,405.11 198.55,404.77 198.59,404.32 198.72,403.75 199.34,402.05 199.53,401.36 199.86,399.09 200.06,397.27 200.14,395.45 200.16,386.36 200.29,383.52 200.38,382.16 200.45,381.70 200.72,380.68 201.17,379.55 202.21,377.16 203.48,374.66 203.97,373.52 204.42,372.05 205.20,368.86 205.88,366.48 206.03,365.80 206.13,365.11Z" fill="#87aced" stroke="#484848" stroke-width="0.5" stroke-linejoin="round"/>
<line x1="206.28" x2="206.28" y1="372.27" y2="407.50" stroke="#4a4a4a" stroke-width="0.4"/>
<line x1="206.28" x2="206.28" y1="385.91" y2="401.82" stroke="#444" stroke-width="1.1"/>
<circle cx="206.28" cy="393.86" r="0.45" fill="#fff" fill-opacity="0.85"/>
<text x="225.55" y="423.20" font-size="4.4" text-anchor="middle">B10</text>
<line x1="225.55" x2="225.55" y1="386.82" y2="408.64" stroke="#66666c" stroke-width="0.8"/>
<line x1="217.85" x2="233.25" y1="408.64" y2="408.64" stroke="#5c5c62" stroke-width="0.95"/>
<text x="244.82" y="423.20" font-size="4.4" text-anchor="middle">B11</text>
<line x1="244.82" x2="244.82" y1="300.91" y2="411.14" stroke="#636369" stroke-width="0.9"/>
<path d="M244.82,362.16 244.97,362.27 245.15,363.07 245.52,363.98 246.96,366.70 247.56,367.61 250.62,371.82 251.00,372.39 251.32,372.95 251.93,374.43 252.29,375.45 252.48,376.25 252.55,377.05 252.52,377.84 252.43,378.64 252.02,381.02 251.73,382.05 251.04,383.98 250.79,384.77 250.06,387.61 249.68,389.43 249.53,390.45 249.43,391.48 249.18,396.36 249.11,397.05 248.98,397.73 248.73,398.64 248.26,400.00 247.99,400.57 246.96,402.50 246.23,404.20 246.00,405.00 245.96,405.45 246.03,405.91 246.21,406.36 247.02,408.07 247.09,408.41 247.05,408.75 246.93,409.09 246.75,409.43 246.45,409.89 246.08,410.34 245.62,410.68 244.82,411.14 244.02,410.68 243.56,410.34 243.19,409.89 242.89,409.43 242.71,409.09 242.59,408.75 242.55,408.41 242.62,408.07 243.43,406.36 243.61,405.91 243.68,405.45 243.64,405.00 243.41,404.20 242.68,402.50 241.65,400.57 241.38,400.00 240.91,398.64 240.66,397.73 240.53,397.05 240.46,396.36 240.21,391.48 240.11,390.45 239.96,389.43 239.58,387.61 238.85,384.77 238.60,383.98 237.91,382.05 237.62,381.02 237.21,378.64 237.12,377.84 237.09,377.05 237.16,376.25 237.35,375.45 237.71,374.43 238.32,372.95 238.64,372.39 239.02,371.82 242.08,367.61 242.68,366.70 244.12,363.98 244.49,363.07 244.67,362.27Z" fill="#ec83ec" stroke="#484848" stroke-width="0.5" stroke-linejoin="round"/>
<line x1="244.82" x2="244.82" y1="364.32" y2="402.95" stroke="#4a4a4a" stroke-width="0.4"/>
<line x1="244.82" x2="244.82" y1="374.77" y2="394.55" stroke="#444" stroke-width="1.1"/>
<circle cx="244.82" cy="382.27" r="0.45" fill="#fff" fill-opacity="0.85"/>
<text x="264.09" y="423.20" font-size="4.4" text-anchor="middle">B12</text>
<line x1="264.09" x2="264.09" y1="302.95" y2="410.45" stroke="#636369" stroke-width="0.9"/>
<path d="M264.09,369.43 264.24,369.55 264.43,370.34 264.75,371.14 266.19,373.98 266.77,375.00 268.22,377.39 269.77,380.11 270.42,381.36 270.75,382.16 271.54,384.32 271.74,385.11 271.82,385.91 271.78,386.82 271.64,387.95 271.32,389.77 271.07,390.80 270.66,392.05 269.87,394.20 268.75,396.59 268.42,397.39 268.21,398.07 267.98,399.20 267.77,400.57 267.40,403.52 267.31,404.55 267.27,405.34 267.28,405.57 267.34,405.91 267.81,407.05 267.91,407.39 267.95,407.84 267.86,408.30 267.71,408.64 267.51,408.98 267.15,409.43 266.89,409.66 266.64,409.77 265.93,410.00 264.09,410.45 262.25,410.00 261.54,409.77 261.29,409.66 261.03,409.43 260.67,408.98 260.47,408.64 260.32,408.30 260.23,407.84 260.27,407.39 260.37,407.05 260.84,405.91 260.90,405.57 260.91,405.34 260.87,404.55 260.78,403.52 260.41,400.57 260.20,399.20 259.97,398.07 259.76,397.39 259.43,396.59 258.31,394.20 257.52,392.05 257.11,390.80 256.86,389.77 256.54,387.95 256.40,386.82 256.36,385.91 256.44,385.11 256.64,384.32 257.43,382.16 257.76,381.36 258.41,380.11 259.96,377.39 261.41,375.00 261.99,373.98 263.43,371.14 263.75,370.34 263.94,369.55Z" fill="#ee8bc4" stroke="#484848" stroke-width="0.5" stroke-linejoin="round"/>
<line x1="264.09" x2="264.09" y1="371.14" y2="404.55" stroke="#4a4a4a" stroke-width="0.4"/>
<line x1="264.09" x2="264.09" y1="382.95" y2="399.77" stroke="#444" stroke-width="1.1"/>
<circle cx="264.09" cy="390.91" r="0.45" fill="#fff" fill-opacity="0.85"/>
</g>
<g>
<rect x="292.70" y="295.40" width="249.55" height="120.90" fill="#eaeaf2"/>
<line x1="292.70" x2="542.25" y1="409.55" y2="409.55" stroke="#fff" stroke-width="0.32"/>
<text x="289.40" y="410.70" font-size="3.6" text-anchor="end">0.0</text>
<line x1="292.70" x2="542.25" y1="382.88" y2="382.88" stroke="#fff" stroke-width="0.32"/>
<text x="289.40" y="384.02" font-size="3.6" text-anchor="end">0.5</text>
<line x1="292.70" x2="542.25" y1="356.20" y2="356.20" stroke="#fff" stroke-width="0.32"/>
<text x="289.40" y="357.35" font-size="3.6" text-anchor="end">1.0</text>
<line x1="292.70" x2="542.25" y1="329.53" y2="329.53" stroke="#fff" stroke-width="0.32"/>
<text x="289.40" y="330.68" font-size="3.6" text-anchor="end">1.5</text>
<line x1="292.70" x2="542.25" y1="302.85" y2="302.85" stroke="#fff" stroke-width="0.32"/>
<text x="289.40" y="304.00" font-size="3.6" text-anchor="end">2.0</text>
<text x="417.08" y="293.00" font-size="6.6" text-anchor="middle">Class - Snow</text>
<text transform="translate(280.50,358.30) rotate(-90)" font-size="4.2" text-anchor="middle">Surface Reflectance (ρ)</text>
<text x="301.65" y="423.20" font-size="4.4" text-anchor="middle">B01</text>
<line x1="301.65" x2="301.65" y1="310.00" y2="410.68" stroke="#636369" stroke-width="0.9"/>
<path d="M301.65,333.75 301.79,333.86 301.88,334.55 302.04,335.23 302.89,338.07 303.88,340.68 304.22,341.82 304.48,343.41 305.19,349.20 305.39,350.34 305.58,351.14 305.91,351.93 306.45,352.84 307.78,354.89 308.77,356.14 309.08,356.59 309.30,357.05 309.38,357.50 309.35,357.95 309.27,358.41 309.11,358.98 308.87,359.66 308.72,359.89 308.52,360.11 307.25,361.25 307.06,361.48 306.92,361.70 306.72,362.50 306.45,364.77 306.24,365.68 305.90,366.36 304.78,368.07 304.13,369.43 303.75,370.34 303.46,371.14 303.28,371.82 303.17,372.50 302.99,373.75 302.84,375.11 302.65,378.07 302.54,381.02 302.38,387.16 302.33,390.68 302.41,392.73 302.57,394.89 302.68,395.45 303.10,396.82 303.22,397.39 303.42,399.09 303.47,400.34 303.41,400.80 303.26,401.36 302.18,404.43 301.95,405.68 301.79,407.05 301.65,407.16 301.51,407.05 301.35,405.68 301.12,404.43 300.04,401.36 299.89,400.80 299.83,400.34 299.88,399.09 300.08,397.39 300.20,396.82 300.62,395.45 300.73,394.89 300.89,392.73 300.97,390.68 300.92,387.16 300.76,381.02 300.65,378.07 300.46,375.11 300.31,373.75 300.13,372.50 300.02,371.82 299.84,371.14 299.55,370.34 299.17,369.43 298.52,368.07 297.40,366.36 297.06,365.68 296.85,364.77 296.58,362.50 296.38,361.70 296.24,361.48 296.05,361.25 294.78,360.11 294.58,359.89 294.43,359.66 294.19,358.98 294.03,358.41 293.95,357.95 293.92,357.50 294.00,357.05 294.22,356.59 294.53,356.14 295.52,354.89 296.85,352.84 297.39,351.93 297.72,351.14 297.91,350.34 298.11,349.20 298.82,343.41 299.08,341.82 299.42,340.68 300.41,338.07 301.26,335.23 301.42,334.55 301.51,333.86Z" fill="#ef909f" stroke="#484848" stroke-width="0.5" stroke-linejoin="round"/>
<line x1="301.65" x2="301.65" y1="342.73" y2="373.41" stroke="#4a4a4a" stroke-width="0.4"/>
<line x1="301.65" x2="301.65" y1="353.86" y2="368.41" stroke="#444" stroke-width="1.1"/>
<circle cx="301.65" cy="359.55" r="0.45" fill="#fff" fill-opacity="0.85"/>
<text x="320.92" y="423.20" font-size="4.4" text-anchor="middle">B02</text>
<line x1="320.92" x2="320.92" y1="300.91" y2="410.68" stroke="#636369" stroke-width="0.9"/>
<path d="M320.92,327.39 321.06,327.50 321.69,333.64 321.97,335.68 322.67,339.32 323.30,341.82 323.48,342.84 323.53,343.52 323.54,348.30 323.64,349.20 323.83,350.11 324.11,351.14 324.59,352.73 324.91,353.52 325.35,354.43 326.15,355.91 326.37,356.25 326.82,356.82 327.85,357.95 328.28,358.52 328.57,359.09 328.65,359.55 328.62,359.77 328.55,360.00 328.24,360.57 326.94,362.27 325.57,363.86 325.25,364.32 325.06,364.66 324.79,365.45 324.42,367.05 324.22,367.73 323.99,368.18 323.34,369.20 323.12,369.66 322.82,370.80 322.59,372.05 322.10,375.80 321.93,377.73 321.81,380.80 321.64,387.39 321.61,391.25 321.69,394.09 321.85,396.82 321.99,397.50 322.43,398.98 322.83,400.57 322.93,401.14 322.96,401.70 322.92,401.93 322.82,402.27 322.14,403.64 321.84,404.55 321.58,405.45 321.40,406.25 321.19,407.39 321.07,408.30 320.92,408.41 320.77,408.30 320.65,407.39 320.44,406.25 320.26,405.45 320.00,404.55 319.70,403.64 319.02,402.27 318.92,401.93 318.88,401.70 318.91,401.14 319.01,400.57 319.41,398.98 319.85,397.50 319.99,396.82 320.15,394.09 320.23,391.25 320.20,387.39 320.03,380.80 319.91,377.73 319.74,375.80 319.25,372.05 319.02,370.80 318.72,369.66 318.50,369.20 317.85,368.18 317.62,367.73 317.42,367.05 317.05,365.45 316.78,364.66 316.59,364.32 316.27,363.86 314.90,362.27 313.60,360.57 313.29,360.00 313.22,359.77 313.19,359.55 313.27,359.09 313.56,358.52 313.99,357.95 315.02,356.82 315.47,356.25 315.69,355.91 316.49,354.43 316.93,353.52 317.25,352.73 317.73,351.14 318.01,350.11 318.20,349.20 318.30,348.30 318.31,343.52 318.36,342.84 318.54,341.82 319.17,339.32 319.87,335.68 320.15,333.64 320.78,327.50Z" fill="#eb9158" stroke="#484848" stroke-width="0.5" stroke-linejoin="round"/>
<line x1="320.92" x2="320.92" y1="338.18" y2="375.68" stroke="#4a4a4a" stroke-width="0.4"/>
<line x1="320.92" x2="320.92" y1="351.59" y2="368.41" stroke="#444" stroke-width="1.1"/>
<circle cx="320.92" cy="360.23" r="0.45" fill="#fff" fill-opacity="0.85"/>
<text x="340.19" y="423.20" font-size="4.4" text-anchor="middle">B03</text>
<line x1="340.19" x2="340.19" y1="300.91" y2="410.68" stroke="#636369" stroke-width="0.9"/>
<path d="M340.19,325.23 340.33,325.34 340.64,329.09 340.93,333.07 341.14,335.11 341.43,336.82 341.94,339.32 342.33,340.91 342.45,341.70 342.44,342.84 342.25,345.80 342.25,347.39 342.32,348.98 342.47,351.02 342.58,351.93 342.77,352.95 343.07,354.20 343.45,355.45 343.73,356.14 344.16,356.93 344.80,357.95 345.59,359.09 346.03,359.55 347.16,360.57 347.58,361.02 347.85,361.48 347.92,361.82 347.86,362.27 347.69,362.73 347.39,363.30 346.82,364.20 346.53,364.55 346.18,364.89 344.82,366.02 344.34,366.48 343.81,367.16 343.16,368.18 342.75,368.98 342.50,369.66 342.18,370.91 341.94,372.16 341.67,374.32 341.40,377.84 340.95,386.70 340.89,388.75 340.87,390.57 340.93,394.66 341.11,398.52 341.22,399.09 341.64,400.34 341.76,400.80 341.96,402.16 342.01,403.07 341.94,403.52 341.80,403.98 340.71,406.82 340.48,407.84 340.33,408.86 340.19,408.98 340.05,408.86 339.90,407.84 339.67,406.82 338.58,403.98 338.44,403.52 338.37,403.07 338.42,402.16 338.62,400.80 338.74,400.34 339.16,399.09 339.27,398.52 339.45,394.66 339.51,390.57 339.49,388.75 339.43,386.70 338.98,377.84 338.71,374.32 338.44,372.16 338.20,370.91 337.88,369.66 337.63,368.98 337.22,368.18 336.57,367.16 336.04,366.48 335.56,366.02 334.20,364.89 333.85,364.55 333.56,364.20 332.99,363.30 332.69,362.73 332.52,362.27 332.46,361.82 332.53,361.48 332.80,361.02 333.22,360.57 334.35,359.55 334.79,359.09 335.58,357.95 336.22,356.93 336.65,356.14 336.93,355.45 337.31,354.20 337.61,352.95 337.80,351.93 337.91,351.02 338.06,348.98 338.13,347.39 338.13,345.80 337.94,342.84 337.93,341.70 338.05,340.91 338.44,339.32 338.95,336.82 339.24,335.11 339.45,333.07 339.74,329.09 340.05,325.34Z" fill="#c59e42" stroke="#484848" stroke-width="0.5" stroke-linejoin="round"/>
<line x1="340.19" x2="340.19" y1="338.18" y2="376.82" stroke="#4a4a4a" stroke-width="0.4"/>
<line x1="340.19" x2="340.19" y1="352.95" y2="370.45" stroke="#444" stroke-width="1.1"/>
<circle cx="340.19" cy="362.50" r="0.45" fill="#fff" fill-opacity="0.85"/>
<text x="359.46" y="423.20" font-size="4.4" text-anchor="middle">B04</text>
<line x1="359.46" x2="359.46" y1="300.91" y2="411.14" stroke="#636369" stroke-width="0.9"/>
<path d="M359.46,317.27 359.60,317.39 359.65,320.00 359.71,321.25 360.12,325.68 360.40,329.89 360.58,331.70 360.66,332.16 360.79,332.61 361.39,334.20 361.57,334.77 361.91,336.59 362.05,337.84 362.07,338.52 361.98,339.20 361.80,339.89 361.23,341.59 361.10,342.16 361.05,342.61 361.08,345.23 361.18,348.30 361.30,349.66 361.50,351.02 361.82,352.73 362.22,354.43 362.64,355.68 363.22,357.05 363.84,358.30 364.18,358.86 365.90,361.25 366.94,362.50 367.12,362.84 367.19,363.18 367.12,363.64 366.96,364.09 366.66,364.66 366.01,365.68 365.51,366.25 364.15,367.50 363.59,368.07 363.01,368.86 362.38,369.89 362.03,370.57 361.77,371.25 361.42,372.61 361.16,373.98 361.00,375.11 360.86,376.48 360.58,380.34 360.47,383.30 360.37,388.86 360.37,399.43 360.46,400.00 360.82,401.25 360.93,401.82 360.93,404.66 360.88,405.00 360.78,405.34 360.32,406.48 360.17,406.93 360.01,407.73 359.61,410.23 359.46,410.34 359.31,410.23 358.91,407.73 358.75,406.93 358.60,406.48 358.14,405.34 358.04,405.00 357.99,404.66 357.99,401.82 358.10,401.25 358.46,400.00 358.55,399.43 358.55,388.86 358.45,383.30 358.34,380.34 358.06,376.48 357.92,375.11 357.76,373.98 357.50,372.61 357.15,371.25 356.89,370.57 356.54,369.89 355.91,368.86 355.33,368.07 354.77,367.50 353.41,366.25 352.91,365.68 352.26,364.66 351.96,364.09 351.80,363.64 351.73,363.18 351.80,362.84 351.98,362.50 353.02,361.25 354.74,358.86 355.08,358.30 355.70,357.05 356.28,355.68 356.70,354.43 357.10,352.73 357.42,351.02 357.62,349.66 357.74,348.30 357.84,345.23 357.87,342.61 357.82,342.16 357.69,341.59 357.12,339.89 356.94,339.20 356.85,338.52 356.87,337.84 357.01,336.59 357.35,334.77 357.53,334.20 358.13,332.61 358.26,332.16 358.34,331.70 358.52,329.89 358.80,325.68 359.21,321.25 359.27,320.00 359.32,317.39Z" fill="#a5a63f" stroke="#484848" stroke-width="0.5" stroke-linejoin="round"/>
<line x1="359.46" x2="359.46" y1="333.64" y2="377.95" stroke="#4a4a4a" stroke-width="0.4"/>
<line x1="359.46" x2="359.46" y1="347.95" y2="369.77" stroke="#444" stroke-width="1.1"/>
<circle cx="359.46" cy="363.18" r="0.45" fill="#fff" fill-opacity="0.85"/>
<text x="378.73" y="423.20" font-size="4.4" text-anchor="middle">B05</text>
<line x1="378.73" x2="378.73" y1="300.91" y2="411.59" stroke="#636369" stroke-width="0.9"/>
<path d="M378.73,315.34 378.87,315.45 378.92,318.18 379.03,320.00 379.61,325.57 379.92,329.43 380.11,331.14 380.23,331.93 380.34,332.39 381.01,334.20 381.21,334.89 381.55,336.70 381.68,337.84 381.67,338.52 381.55,339.20 381.35,339.89 380.66,341.82 380.52,342.39 380.45,342.84 380.44,349.43 380.47,350.11 380.56,350.91 380.76,351.93 381.05,353.07 381.72,355.34 382.01,356.14 382.42,357.05 382.94,358.07 383.92,359.89 385.15,361.93 385.94,363.52 386.32,364.43 386.43,364.89 386.46,365.23 386.43,365.45 386.36,365.68 386.25,365.91 386.03,366.25 385.64,366.70 384.64,367.73 384.09,368.18 382.39,369.32 382.12,369.55 381.91,369.77 381.29,370.68 380.85,371.48 380.54,372.27 380.38,373.07 380.13,374.89 379.99,376.93 379.65,388.98 379.64,399.43 379.69,400.00 379.91,401.25 379.97,401.82 379.97,405.45 379.87,406.25 379.46,407.95 378.88,410.91 378.73,411.02 378.58,410.91 378.00,407.95 377.59,406.25 377.49,405.45 377.49,401.82 377.55,401.25 377.77,400.00 377.82,399.43 377.81,388.98 377.47,376.93 377.33,374.89 377.08,373.07 376.92,372.27 376.61,371.48 376.17,370.68 375.55,369.77 375.34,369.55 375.07,369.32 373.37,368.18 372.82,367.73 371.82,366.70 371.43,366.25 371.21,365.91 371.10,365.68 371.03,365.45 371.00,365.23 371.03,364.89 371.14,364.43 371.52,363.52 372.31,361.93 373.54,359.89 374.52,358.07 375.04,357.05 375.45,356.14 375.74,355.34 376.41,353.07 376.70,351.93 376.90,350.91 376.99,350.11 377.02,349.43 377.01,342.84 376.94,342.39 376.80,341.82 376.11,339.89 375.91,339.20 375.79,338.52 375.78,337.84 375.91,336.70 376.25,334.89 376.45,334.20 377.12,332.39 377.23,331.93 377.35,331.14 377.54,329.43 377.85,325.57 378.43,320.00 378.54,318.18 378.59,315.45Z" fill="#7ab140" stroke="#484848" stroke-width="0.5" stroke-linejoin="round"/>
<line x1="378.73" x2="378.73" y1="332.50" y2="379.09" stroke="#4a4a4a" stroke-width="0.4"/>
<line x1="378.73" x2="378.73" y1="346.36" y2="369.77" stroke="#444" stroke-width="1.1"/>
<circle cx="378.73" cy="364.09" r="0.45" fill="#fff" fill-opacity="0.85"/>
<text x="398.00" y="423.20" font-size="4.4" text-anchor="middle">B06</text>
<line x1="398.00" x2="398.00" y1="300.91" y2="411.36" stroke="#636369" stroke-width="0.9"/>
<path d="M398.00,313.18 398.14,313.30 398.21,316.48 398.36,319.20 399.12,328.52 399.29,330.34 399.51,332.05 399.67,332.73 400.23,334.77 400.59,336.70 400.72,337.84 400.72,338.52 400.61,339.32 400.45,340.00 399.91,341.93 399.79,342.50 399.71,343.07 399.56,345.80 399.48,348.30 399.49,349.77 399.60,350.91 399.93,352.61 400.64,355.34 400.93,356.25 401.31,357.27 401.95,358.75 402.60,360.11 405.41,365.00 405.64,365.57 405.73,366.14 405.65,366.70 405.43,367.27 405.03,367.95 404.60,368.52 404.27,368.75 402.88,369.43 402.32,369.77 401.29,370.68 400.86,371.14 400.59,371.48 400.32,371.93 399.98,372.84 399.71,373.75 399.49,374.77 399.30,376.36 399.14,378.86 398.91,384.55 398.82,387.95 398.80,397.39 398.84,398.18 398.99,399.89 399.02,400.68 399.00,402.61 398.92,404.89 398.81,406.36 398.35,409.32 398.14,410.57 398.00,410.68 397.86,410.57 397.65,409.32 397.19,406.36 397.08,404.89 397.00,402.61 396.98,400.68 397.01,399.89 397.16,398.18 397.20,397.39 397.18,387.95 397.09,384.55 396.86,378.86 396.70,376.36 396.51,374.77 396.29,373.75 396.02,372.84 395.68,371.93 395.41,371.48 395.14,371.14 394.71,370.68 393.68,369.77 393.12,369.43 391.73,368.75 391.40,368.52 390.97,367.95 390.57,367.27 390.35,366.70 390.27,366.14 390.36,365.57 390.59,365.00 393.40,360.11 394.05,358.75 394.69,357.27 395.07,356.25 395.36,355.34 396.07,352.61 396.40,350.91 396.51,349.77 396.52,348.30 396.44,345.80 396.29,343.07 396.21,342.50 396.09,341.93 395.55,340.00 395.39,339.32 395.28,338.52 395.28,337.84 395.41,336.70 395.77,334.77 396.33,332.73 396.49,332.05 396.71,330.34 396.88,328.52 397.64,319.20 397.79,316.48 397.86,313.30Z" fill="#42b579" stroke="#484848" stroke-width="0.5" stroke-linejoin="round"/>
<line x1="398.00" x2="398.00" y1="331.36" y2="381.36" stroke="#4a4a4a" stroke-width="0.4"/>
<line x1="398.00" x2="398.00" y1="347.95" y2="370.45" stroke="#444" stroke-width="1.1"/>
<circle cx="398.00" cy="365.45" r="0.45" fill="#fff" fill-opacity="0.85"/>
<text x="417.27" y="423.20" font-size="4.4" text-anchor="middle">B07</text>
<line x1="417.27" x2="417.27" y1="300.91" y2="411.36" stroke="#636369" stroke-width="0.9"/>
<path d="M417.27,313.30 417.41,313.41 417.47,316.14 417.59,318.18 418.25,325.34 418.55,329.77 418.69,331.36 418.78,332.05 418.90,332.61 419.46,334.55 419.62,335.23 419.89,337.05 419.99,338.18 419.98,338.98 419.88,339.66 419.67,340.45 419.06,342.39 418.94,342.95 418.87,343.52 418.78,346.59 418.75,349.43 418.80,350.68 418.95,352.05 419.20,353.52 419.57,355.34 419.73,355.91 420.00,356.59 420.55,357.73 421.75,360.00 422.91,361.93 423.71,362.95 423.94,363.41 423.97,363.64 423.90,363.98 423.72,364.32 423.36,364.89 423.21,365.23 423.18,365.45 423.23,365.68 423.36,365.91 423.55,366.14 424.62,367.16 424.84,367.50 424.88,367.73 424.84,368.41 424.72,369.09 424.50,369.89 424.32,370.23 423.84,370.80 422.38,372.16 420.65,373.52 420.05,374.09 419.61,374.77 419.20,375.57 418.94,376.25 418.77,376.93 418.56,378.64 418.41,380.68 418.18,385.45 418.09,388.41 418.07,397.39 418.11,398.18 418.26,399.89 418.29,400.68 418.26,402.84 418.18,405.23 418.05,406.59 417.53,409.89 417.41,410.57 417.27,410.68 417.13,410.57 417.01,409.89 416.49,406.59 416.36,405.23 416.28,402.84 416.25,400.68 416.28,399.89 416.43,398.18 416.47,397.39 416.45,388.41 416.36,385.45 416.13,380.68 415.98,378.64 415.77,376.93 415.60,376.25 415.34,375.57 414.93,374.77 414.49,374.09 413.89,373.52 412.16,372.16 410.70,370.80 410.22,370.23 410.04,369.89 409.82,369.09 409.70,368.41 409.66,367.73 409.70,367.50 409.92,367.16 410.99,366.14 411.18,365.91 411.31,365.68 411.36,365.45 411.33,365.23 411.18,364.89 410.82,364.32 410.64,363.98 410.57,363.64 410.60,363.41 410.83,362.95 411.63,361.93 412.79,360.00 413.99,357.73 414.54,356.59 414.81,355.91 414.97,355.34 415.34,353.52 415.59,352.05 415.74,350.68 415.79,349.43 415.76,346.59 415.67,343.52 415.60,342.95 415.48,342.39 414.87,340.45 414.66,339.66 414.56,338.98 414.55,338.18 414.65,337.05 414.92,335.23 415.08,334.55 415.64,332.61 415.76,332.05 415.85,331.36 415.99,329.77 416.29,325.34 416.95,318.18 417.07,316.14 417.13,313.41Z" fill="#44b39e" stroke="#484848" stroke-width="0.5" stroke-linejoin="round"/>
<line x1="417.27" x2="417.27" y1="331.36" y2="383.64" stroke="#4a4a4a" stroke-width="0.4"/>
<line x1="417.27" x2="417.27" y1="349.32" y2="371.36" stroke="#444" stroke-width="1.1"/>
<circle cx="417.27" cy="366.14" r="0.45" fill="#fff" fill-opacity="0.85"/>
<text x="436.54" y="423.20" font-size="4.4" text-anchor="middle">B08</text>
<line x1="436.54" x2="436.54" y1="300.91" y2="411.36" stroke="#636369" stroke-width="0.9"/>
<path d="M436.54,313.30 436.68,313.41 436.74,316.14 436.86,318.18 437.52,325.34 437.84,329.89 437.99,331.59 438.17,332.84 438.70,335.45 439.09,337.73 439.20,338.52 439.26,339.20 439.25,339.89 439.14,340.57 438.95,341.25 438.35,343.07 438.21,343.64 438.14,344.20 438.05,347.16 438.02,350.11 438.07,351.36 438.21,352.61 438.47,354.20 438.86,356.14 439.10,356.93 439.46,357.84 440.05,359.09 440.94,360.80 442.52,363.30 443.24,364.32 443.49,364.77 443.58,365.11 443.57,365.34 443.54,365.45 443.41,365.68 442.78,366.48 442.69,366.70 442.69,366.93 442.77,367.16 443.02,367.50 444.02,368.52 444.22,368.86 444.27,369.09 444.23,369.66 444.11,370.34 443.85,371.25 443.70,371.59 443.41,371.93 443.03,372.27 441.11,373.75 439.69,374.77 439.05,375.34 438.81,375.68 438.41,376.59 438.16,377.39 437.97,378.18 437.79,379.66 437.63,381.59 437.45,385.57 437.35,388.52 437.34,397.39 437.38,398.18 437.53,399.89 437.56,400.68 437.53,402.84 437.45,405.23 437.32,406.59 436.80,409.89 436.68,410.57 436.54,410.68 436.40,410.57 436.28,409.89 435.76,406.59 435.63,405.23 435.55,402.84 435.52,400.68 435.55,399.89 435.70,398.18 435.74,397.39 435.73,388.52 435.63,385.57 435.45,381.59 435.29,379.66 435.11,378.18 434.92,377.39 434.67,376.59 434.27,375.68 434.03,375.34 433.39,374.77 431.97,373.75 430.05,372.27 429.67,371.93 429.38,371.59 429.23,371.25 428.97,370.34 428.85,369.66 428.81,369.09 428.86,368.86 429.06,368.52 430.06,367.50 430.31,367.16 430.39,366.93 430.39,366.70 430.30,366.48 429.67,365.68 429.54,365.45 429.51,365.34 429.50,365.11 429.59,364.77 429.84,364.32 430.56,363.30 432.14,360.80 433.03,359.09 433.62,357.84 433.98,356.93 434.22,356.14 434.61,354.20 434.87,352.61 435.01,351.36 435.06,350.11 435.03,347.16 434.94,344.20 434.87,343.64 434.73,343.07 434.13,341.25 433.94,340.57 433.83,339.89 433.82,339.20 433.88,338.52 433.99,337.73 434.38,335.45 434.91,332.84 435.09,331.59 435.24,329.89 435.56,325.34 436.22,318.18 436.34,316.14 436.40,313.41Z" fill="#46b1b5" stroke="#484848" stroke-width="0.5" stroke-linejoin="round"/>
<line x1="436.54" x2="436.54" y1="331.36" y2="384.77" stroke="#4a4a4a" stroke-width="0.4"/>
<line x1="436.54" x2="436.54" y1="349.32" y2="373.41" stroke="#444" stroke-width="1.1"/>
<circle cx="436.54" cy="367.50" r="0.45" fill="#fff" fill-opacity="0.85"/>
<text x="455.81" y="423.20" font-size="4.4" text-anchor="middle">B8A</text>
<line x1="455.81" x2="455.81" y1="300.91" y2="411.14" stroke="#636369" stroke-width="0.9"/>
<path d="M455.81,313.30 455.95,313.41 456.02,316.48 456.18,319.09 456.42,321.82 457.16,329.09 457.57,332.16 458.20,334.89 458.37,335.80 458.64,337.84 458.75,339.20 458.76,340.00 458.63,340.68 458.39,341.36 457.64,343.18 457.48,343.75 457.41,344.20 457.31,347.27 457.29,350.23 457.35,351.59 457.51,353.18 457.77,354.89 458.16,356.93 458.45,357.95 458.90,359.09 459.49,360.34 460.10,361.48 460.49,362.05 461.96,363.98 462.76,365.23 463.03,365.80 463.08,366.14 463.07,366.25 462.96,366.48 462.67,366.82 462.03,367.39 461.69,367.73 461.55,367.95 461.49,368.18 461.53,368.41 461.70,368.75 461.98,369.09 462.73,369.89 463.04,370.34 463.42,371.59 463.51,372.05 463.54,372.50 463.47,372.73 463.16,373.07 462.66,373.41 461.21,374.20 460.65,374.55 459.32,375.68 458.61,376.36 458.14,376.93 457.89,377.39 457.66,378.18 457.46,379.09 457.16,380.91 456.88,383.64 456.61,386.93 456.50,389.43 456.52,391.25 456.76,394.09 456.83,395.23 456.82,396.36 456.72,398.98 456.72,402.27 456.75,402.84 456.93,404.32 456.94,405.23 456.80,406.59 456.41,408.86 455.98,410.57 455.81,410.68 455.64,410.57 455.21,408.86 454.82,406.59 454.68,405.23 454.69,404.32 454.87,402.84 454.90,402.27 454.90,398.98 454.80,396.36 454.79,395.23 454.86,394.09 455.10,391.25 455.12,389.43 455.01,386.93 454.74,383.64 454.46,380.91 454.16,379.09 453.96,378.18 453.73,377.39 453.48,376.93 453.01,376.36 452.30,375.68 450.97,374.55 450.41,374.20 448.96,373.41 448.46,373.07 448.15,372.73 448.08,372.50 448.11,372.05 448.20,371.59 448.58,370.34 448.89,369.89 449.64,369.09 449.92,368.75 450.09,368.41 450.13,368.18 450.07,367.95 449.93,367.73 449.59,367.39 448.95,366.82 448.66,366.48 448.55,366.25 448.54,366.14 448.59,365.80 448.86,365.23 449.66,363.98 451.13,362.05 451.52,361.48 452.13,360.34 452.72,359.09 453.17,357.95 453.46,356.93 453.85,354.89 454.11,353.18 454.27,351.59 454.33,350.23 454.31,347.27 454.21,344.20 454.14,343.75 453.98,343.18 453.23,341.36 452.99,340.68 452.86,340.00 452.87,339.20 452.98,337.84 453.25,335.80 453.42,334.89 454.05,332.16 454.46,329.09 455.20,321.82 455.44,319.09 455.60,316.48 455.67,313.41Z" fill="#4ab0d1" stroke="#484848" stroke-width="0.5" stroke-linejoin="round"/>
<line x1="455.81" x2="455.81" y1="331.36" y2="384.77" stroke="#4a4a4a" stroke-width="0.4"/>
<line x1="455.81" x2="455.81" y1="349.32" y2="374.55" stroke="#444" stroke-width="1.1"/>
<circle cx="455.81" cy="368.18" r="0.45" fill="#fff" fill-opacity="0.85"/>
<text x="475.08" y="423.20" font-size="4.4" text-anchor="middle">B09</text>
<line x1="475.08" x2="475.08" y1="308.86" y2="410.68" stroke="#636369" stroke-width="0.9"/>
<path d="M475.08,342.61 475.22,342.73 475.37,344.20 475.94,347.61 476.80,353.98 477.47,357.39 477.67,358.86 477.69,359.55 477.69,364.32 477.62,365.23 477.27,367.73 477.24,368.41 477.26,369.55 477.37,371.48 477.60,374.09 477.76,375.00 478.25,377.16 478.35,377.84 478.38,378.41 478.35,378.75 478.27,379.09 477.87,380.23 477.74,380.68 477.69,381.14 477.74,381.70 477.85,382.27 478.02,382.84 478.42,383.98 478.66,384.55 479.25,385.57 480.61,387.61 481.79,389.20 482.15,389.77 482.35,390.23 482.66,391.14 482.77,391.59 482.81,392.05 482.74,392.50 482.51,393.07 482.16,393.64 481.58,394.43 481.07,394.89 479.39,396.02 478.83,396.48 478.12,397.27 477.66,397.84 477.27,398.41 477.04,398.86 476.90,399.32 476.69,400.45 476.59,401.25 476.56,402.05 476.58,402.39 476.66,402.84 477.07,404.20 477.18,404.66 477.24,405.23 477.19,405.68 476.96,406.48 476.05,408.75 475.27,410.34 475.08,410.45 474.89,410.34 474.11,408.75 473.20,406.48 472.97,405.68 472.92,405.23 472.98,404.66 473.09,404.20 473.50,402.84 473.58,402.39 473.60,402.05 473.57,401.25 473.47,400.45 473.26,399.32 473.12,398.86 472.89,398.41 472.50,397.84 472.04,397.27 471.33,396.48 470.77,396.02 469.09,394.89 468.58,394.43 468.00,393.64 467.65,393.07 467.42,392.50 467.35,392.05 467.39,391.59 467.50,391.14 467.81,390.23 468.01,389.77 468.37,389.20 469.55,387.61 470.91,385.57 471.50,384.55 471.74,383.98 472.14,382.84 472.31,382.27 472.42,381.70 472.47,381.14 472.42,380.68 472.29,380.23 471.89,379.09 471.81,378.75 471.78,378.41 471.81,377.84 471.91,377.16 472.40,375.00 472.56,374.09 472.79,371.48 472.90,369.55 472.92,368.41 472.89,367.73 472.54,365.23 472.47,364.32 472.47,359.55 472.49,358.86 472.69,357.39 473.36,353.98 474.22,347.61 474.79,344.20 474.94,342.73Z" fill="#87aced" stroke="#484848" stroke-width="0.5" stroke-linejoin="round"/>
<line x1="475.08" x2="475.08" y1="349.55" y2="405.23" stroke="#4a4a4a" stroke-width="0.4"/>
<line x1="475.08" x2="475.08" y1="370.23" y2="390.23" stroke="#444" stroke-width="1.1"/>
<circle cx="475.08" cy="384.77" r="0.45" fill="#fff" fill-opacity="0.85"/>
<text x="494.35" y="423.20" font-size="4.4" text-anchor="middle">B10</text>
<line x1="494.35" x2="494.35" y1="380.91" y2="407.95" stroke="#66666c" stroke-width="0.8"/>
<line x1="486.65" x2="502.05" y1="407.95" y2="407.95" stroke="#5c5c62" stroke-width="0.95"/>
<text x="513.62" y="423.20" font-size="4.4" text-anchor="middle">B11</text>
<line x1="513.62" x2="513.62" y1="371.82" y2="408.18" stroke="#636369" stroke-width="0.9"/>
<path d="M513.62,386.25 513.76,386.36 513.88,390.91 514.00,392.27 514.24,393.98 514.55,395.80 514.74,396.70 515.50,399.55 515.96,401.02 516.10,401.70 516.12,402.05 516.06,402.39 515.60,403.30 515.47,403.64 515.44,403.86 515.48,404.20 515.58,404.55 515.72,404.89 516.18,405.80 516.44,406.25 517.03,407.05 517.58,407.50 517.67,407.61 517.71,407.73 517.35,407.84 516.40,407.95 513.62,408.18 510.84,407.95 509.89,407.84 509.53,407.73 509.57,407.61 509.66,407.50 510.21,407.05 510.80,406.25 511.06,405.80 511.52,404.89 511.66,404.55 511.76,404.20 511.80,403.86 511.77,403.64 511.64,403.30 511.18,402.39 511.12,402.05 511.14,401.70 511.28,401.02 511.74,399.55 512.50,396.70 512.69,395.80 513.00,393.98 513.24,392.27 513.36,390.91 513.48,386.36Z" fill="#ec83ec" stroke="#484848" stroke-width="0.5" stroke-linejoin="round"/>
<line x1="505.92" x2="521.32" y1="407.95" y2="407.95" stroke="#5c5c62" stroke-width="0.95"/>
<line x1="513.62" x2="513.62" y1="392.73" y2="408.18" stroke="#4a4a4a" stroke-width="0.4"/>
<line x1="513.62" x2="513.62" y1="399.32" y2="407.50" stroke="#444" stroke-width="1.1"/>
<circle cx="513.62" cy="404.55" r="0.45" fill="#fff" fill-opacity="0.85"/>
<text x="532.89" y="423.20" font-size="4.4" text-anchor="middle">B12</text>
<line x1="532.89" x2="532.89" y1="373.86" y2="408.41" stroke="#636369" stroke-width="0.9"/>
<path d="M532.89,388.07 533.03,388.18 533.14,392.61 533.25,393.86 533.42,395.23 533.89,397.95 534.54,400.45 534.90,401.70 535.04,402.50 535.04,402.84 534.99,403.07 534.53,403.98 534.40,404.32 534.37,404.55 534.40,404.89 534.49,405.23 534.62,405.57 534.85,406.02 535.13,406.48 535.37,406.70 536.63,407.73 536.72,407.84 536.75,407.95 536.41,408.07 535.52,408.18 532.89,408.41 530.26,408.18 529.37,408.07 529.03,407.95 529.06,407.84 529.15,407.73 530.41,406.70 530.65,406.48 530.93,406.02 531.16,405.57 531.29,405.23 531.38,404.89 531.41,404.55 531.38,404.32 531.25,403.98 530.79,403.07 530.74,402.84 530.74,402.50 530.88,401.70 531.24,400.45 531.89,397.95 532.36,395.23 532.53,393.86 532.64,392.61 532.75,388.18Z" fill="#ee8bc4" stroke="#484848" stroke-width="0.5" stroke-linejoin="round"/>
<line x1="525.19" x2="540.59" y1="408.18" y2="408.18" stroke="#5c5c62" stroke-width="0.95"/>
<line x1="532.89" x2="532.89" y1="395.00" y2="408.41" stroke="#4a4a4a" stroke-width="0.4"/>
<line x1="532.89" x2="532.89" y1="400.23" y2="407.73" stroke="#444" stroke-width="1.1"/>
<circle cx="532.89" cy="405.23" r="0.45" fill="#fff" fill-opacity="0.85"/>
</g>
</svg>
</body></html>
